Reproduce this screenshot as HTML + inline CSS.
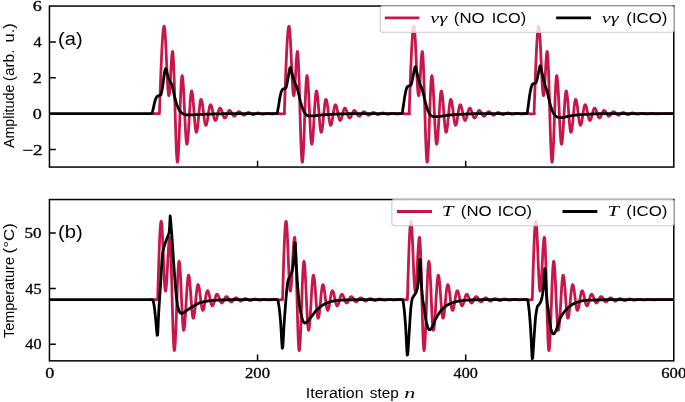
<!DOCTYPE html>
<html><head><meta charset="utf-8"><title>ICO learning</title><style>html,body{margin:0;padding:0;background:#fff}svg{display:block}</style></head><body>
<svg width="685" height="402" viewBox="0 0 685 402">
<rect width="685" height="402" fill="#fff"/>
<defs><clipPath id="c1"><rect x="49.45" y="6.05" width="624.35" height="161.00"/></clipPath><clipPath id="c2"><rect x="49.45" y="199.55" width="624.35" height="161.30"/></clipPath></defs>
<g fill="none" stroke-width="2.78" stroke-linejoin="round" stroke-linecap="butt">
<g clip-path="url(#c1)"><path stroke="#c7164a" d="M150.39 113.68L159.44 113.68L159.70 106.05L159.96 98.48L160.22 91.02L160.48 83.74L160.74 76.68L161.00 69.91L161.26 63.46L161.52 57.41L161.78 51.77L162.04 46.61L162.30 41.97L162.56 37.86L162.82 34.34L163.08 31.41L163.34 29.12L163.60 27.46L163.86 26.47L164.12 26.13L164.38 26.64L164.64 28.14L164.90 30.60L165.16 33.94L165.42 38.06L165.68 42.85L165.94 48.17L166.20 53.86L166.46 59.75L166.72 65.68L166.98 71.46L167.24 76.95L167.50 81.97L167.76 86.37L168.02 90.04L168.28 92.86L168.54 94.75L168.80 95.66L168.91 95.74L169.17 95.18L169.43 93.55L169.69 90.91L169.95 87.40L170.21 83.20L170.47 78.51L170.73 73.58L170.99 68.65L171.25 63.97L171.51 59.77L171.77 56.26L172.03 53.62L172.29 51.98L172.55 51.43L172.81 52.20L173.07 54.49L173.33 58.24L173.59 63.34L173.85 69.65L174.11 76.99L174.37 85.17L174.63 93.94L174.89 103.08L175.15 112.31L175.41 121.39L175.67 130.07L175.93 138.10L176.19 145.25L176.45 151.33L176.71 156.17L176.97 159.63L177.23 161.62L177.44 162.12L177.70 161.46L177.96 159.51L178.22 156.33L178.48 152.00L178.74 146.67L179.00 140.50L179.26 133.67L179.52 126.39L179.78 118.88L180.04 111.37L180.30 104.10L180.56 97.26L180.82 91.09L181.08 85.76L181.34 81.44L181.60 78.25L181.86 76.30L182.12 75.65L182.38 76.15L182.64 77.63L182.90 80.04L183.16 83.33L183.43 87.39L183.69 92.11L183.95 97.34L184.21 102.94L184.47 108.74L184.73 114.58L184.99 120.28L185.25 125.68L185.51 130.62L185.77 134.95L186.03 138.56L186.29 141.34L186.55 143.20L186.81 144.10L186.91 144.18L187.17 143.77L187.43 142.57L187.69 140.61L187.95 137.95L188.21 134.66L188.47 130.86L188.73 126.65L188.99 122.16L189.25 117.54L189.51 112.91L189.77 108.43L190.03 104.22L190.29 100.41L190.55 97.13L190.81 94.47L191.07 92.50L191.33 91.30L191.59 90.90L191.85 91.20L192.11 92.09L192.37 93.56L192.63 95.54L192.89 98.00L193.15 100.85L193.41 104.02L193.67 107.40L193.93 110.91L194.20 114.44L194.46 117.89L194.72 121.15L194.98 124.14L195.24 126.76L195.50 128.94L195.76 130.62L196.02 131.75L196.28 132.29L196.38 132.34L196.64 132.09L196.90 131.34L197.16 130.13L197.42 128.48L197.68 126.44L197.94 124.09L198.20 121.48L198.46 118.70L198.72 115.83L198.98 112.97L199.24 110.19L199.50 107.58L199.76 105.22L200.02 103.19L200.28 101.54L200.54 100.32L200.80 99.58L201.06 99.33L201.32 99.52L201.58 100.08L201.84 101.00L202.10 102.25L202.36 103.79L202.62 105.58L202.88 107.56L203.14 109.69L203.40 111.89L203.66 114.11L203.92 116.27L204.18 118.32L204.44 120.19L204.71 121.84L204.97 123.21L205.23 124.26L205.49 124.97L205.75 125.31L205.85 125.34L206.11 125.18L206.37 124.72L206.63 123.96L206.89 122.93L207.15 121.66L207.41 120.18L207.67 118.55L207.93 116.82L208.19 115.03L208.45 113.23L208.71 111.50L208.97 109.87L209.23 108.39L209.49 107.12L209.75 106.09L210.01 105.33L210.27 104.87L210.53 104.71L210.79 104.82L211.05 105.17L211.31 105.72L211.57 106.48L211.83 107.42L212.09 108.50L212.35 109.71L212.61 111.00L212.87 112.33L213.13 113.68L213.39 114.99L213.65 116.24L213.91 117.37L214.17 118.37L214.43 119.20L214.69 119.84L214.95 120.27L215.21 120.48L215.32 120.50L215.58 120.40L215.84 120.12L216.10 119.67L216.36 119.05L216.62 118.29L216.88 117.40L217.14 116.42L217.40 115.38L217.66 114.31L217.92 113.23L218.18 112.19L218.44 111.21L218.70 110.33L218.96 109.57L219.22 108.95L219.48 108.49L219.74 108.21L220.00 108.12L220.26 108.19L220.52 108.40L220.78 108.75L221.04 109.23L221.30 109.81L221.56 110.49L221.82 111.24L222.08 112.05L222.34 112.88L222.60 113.72L222.86 114.54L223.12 115.32L223.38 116.03L223.64 116.66L223.90 117.18L224.16 117.58L224.42 117.85L224.68 117.97L224.79 117.99L225.05 117.93L225.31 117.76L225.57 117.48L225.83 117.10L226.09 116.64L226.35 116.10L226.61 115.51L226.87 114.87L227.13 114.22L227.39 113.56L227.65 112.93L227.91 112.33L228.17 111.80L228.43 111.33L228.69 110.96L228.95 110.68L229.21 110.51L229.47 110.45L229.73 110.49L229.99 110.62L230.25 110.82L230.51 111.09L230.77 111.43L231.03 111.83L231.29 112.27L231.55 112.74L231.81 113.22L232.07 113.71L232.33 114.19L232.59 114.64L232.85 115.06L233.11 115.42L233.37 115.72L233.63 115.95L233.89 116.11L234.15 116.18L234.26 116.19L234.52 116.16L234.78 116.06L235.04 115.89L235.30 115.67L235.56 115.39L235.82 115.07L236.08 114.72L236.34 114.34L236.60 113.95L236.86 113.56L237.12 113.18L237.38 112.83L237.64 112.51L237.90 112.23L238.16 112.01L238.42 111.84L238.68 111.74L238.94 111.71L239.20 111.73L239.46 111.81L239.72 111.93L239.98 112.10L240.24 112.31L240.50 112.55L240.76 112.81L241.02 113.10L241.28 113.40L241.54 113.69L241.80 113.98L242.06 114.26L242.32 114.51L242.58 114.73L242.84 114.92L243.10 115.06L243.36 115.16L243.62 115.20L243.73 115.20L243.99 115.18L244.25 115.12L244.51 115.02L244.77 114.89L245.03 114.72L245.29 114.53L245.55 114.31L245.81 114.09L246.07 113.85L246.33 113.62L246.59 113.39L246.85 113.17L247.11 112.98L247.37 112.81L247.63 112.68L247.89 112.58L248.15 112.52L248.41 112.50L248.67 112.51L248.93 112.56L249.19 112.63L249.45 112.73L249.71 112.85L249.97 113.00L250.23 113.15L250.49 113.32L250.75 113.50L251.01 113.68L251.27 113.85L251.53 114.02L251.79 114.17L252.05 114.30L252.31 114.41L252.57 114.49L252.83 114.55L253.09 114.57L253.20 114.58L253.46 114.56L253.72 114.53L253.98 114.47L254.24 114.39L254.50 114.29L254.76 114.17L255.02 114.05L255.28 113.91L255.54 113.77L255.80 113.63L256.06 113.49L256.32 113.37L256.58 113.25L256.84 113.15L257.10 113.07L257.36 113.01L257.62 112.97L257.88 112.96L258.14 112.97L258.40 113.00L258.66 113.04L258.92 113.10L259.18 113.18L259.44 113.26L259.70 113.36L259.96 113.46L260.22 113.57L260.48 113.68L260.74 113.78L261.00 113.88L261.26 113.97L261.52 114.05L261.78 114.12L262.04 114.17L262.30 114.20L262.56 114.22L262.67 114.22L262.93 114.21L263.19 114.19L263.45 114.15L263.71 114.11L263.97 114.05L264.23 113.98L264.49 113.91L264.75 113.83L265.01 113.74L265.27 113.66L265.53 113.58L265.79 113.51L266.05 113.44L266.31 113.38L266.57 113.33L266.83 113.30L267.09 113.27L267.35 113.27L267.61 113.27L267.87 113.29L268.13 113.31L268.39 113.35L268.65 113.39L268.91 113.44L269.17 113.50L269.43 113.56L269.69 113.62L269.95 113.69L270.21 113.75L270.47 113.80L270.73 113.86L270.99 113.90L271.25 113.94L271.51 113.97L271.77 113.99L272.03 114.00L272.13 114.00L272.39 114.00L272.66 113.99L272.92 113.96L273.18 113.94L273.44 113.90L273.70 113.86L273.96 113.81L274.22 113.77L274.48 113.72L274.74 113.67L275.00 113.62L275.26 113.57L275.52 113.53L275.78 113.50L276.04 113.47L276.30 113.45L276.56 113.43L276.82 113.43L277.08 113.43L277.34 113.44L277.60 113.46L277.86 113.48L278.12 113.51L278.38 113.54L278.64 113.57L278.90 113.61L279.16 113.64L279.42 113.68L279.68 113.72L279.94 113.75L280.20 113.78L280.46 113.81L280.72 113.83L280.98 113.85L281.24 113.86L281.50 113.86L281.76 113.86L282.02 113.85L282.28 113.84L282.54 113.82L282.80 113.80L283.06 113.78L283.32 113.76L283.58 113.74L283.84 113.72L284.10 113.70L284.36 113.69L284.62 113.68L284.83 113.68L284.31 113.68L284.57 106.05L284.83 98.48L285.09 91.02L285.35 83.74L285.61 76.68L285.87 69.91L286.13 63.46L286.39 57.41L286.65 51.77L286.91 46.61L287.17 41.97L287.43 37.86L287.69 34.34L287.95 31.41L288.21 29.12L288.47 27.46L288.73 26.47L288.99 26.13L289.25 26.64L289.51 28.14L289.77 30.60L290.03 33.94L290.29 38.06L290.55 42.85L290.81 48.17L291.07 53.86L291.33 59.75L291.59 65.68L291.85 71.46L292.11 76.95L292.37 81.97L292.63 86.37L292.89 90.04L293.15 92.86L293.41 94.75L293.67 95.66L293.78 95.74L294.04 95.18L294.30 93.55L294.56 90.91L294.82 87.40L295.08 83.20L295.34 78.51L295.60 73.58L295.86 68.65L296.12 63.97L296.38 59.77L296.64 56.26L296.90 53.62L297.16 51.98L297.42 51.43L297.68 52.20L297.94 54.49L298.20 58.24L298.46 63.34L298.72 69.65L298.98 76.99L299.24 85.17L299.50 93.94L299.76 103.08L300.02 112.31L300.28 121.39L300.54 130.07L300.80 138.10L301.06 145.25L301.32 151.33L301.58 156.17L301.84 159.63L302.10 161.62L302.31 162.12L302.57 161.46L302.83 159.51L303.09 156.33L303.35 152.00L303.61 146.67L303.87 140.50L304.13 133.67L304.39 126.39L304.65 118.88L304.91 111.37L305.17 104.10L305.43 97.26L305.69 91.09L305.95 85.76L306.21 81.44L306.47 78.25L306.73 76.30L306.99 75.65L307.25 76.15L307.51 77.63L307.77 80.04L308.03 83.33L308.30 87.39L308.56 92.11L308.82 97.34L309.08 102.94L309.34 108.74L309.60 114.58L309.86 120.28L310.12 125.68L310.38 130.62L310.64 134.95L310.90 138.56L311.16 141.34L311.42 143.20L311.68 144.10L311.78 144.18L312.04 143.77L312.30 142.57L312.56 140.61L312.82 137.95L313.08 134.66L313.34 130.86L313.60 126.65L313.86 122.16L314.12 117.54L314.38 112.91L314.64 108.43L314.90 104.22L315.16 100.41L315.42 97.13L315.68 94.47L315.94 92.50L316.20 91.30L316.46 90.90L316.72 91.20L316.98 92.09L317.24 93.56L317.50 95.54L317.76 98.00L318.02 100.85L318.28 104.02L318.54 107.40L318.80 110.91L319.07 114.44L319.33 117.89L319.59 121.15L319.85 124.14L320.11 126.76L320.37 128.94L320.63 130.62L320.89 131.75L321.15 132.29L321.25 132.34L321.51 132.09L321.77 131.34L322.03 130.13L322.29 128.48L322.55 126.44L322.81 124.09L323.07 121.48L323.33 118.70L323.59 115.83L323.85 112.97L324.11 110.19L324.37 107.58L324.63 105.22L324.89 103.19L325.15 101.54L325.41 100.32L325.67 99.58L325.93 99.33L326.19 99.52L326.45 100.08L326.71 101.00L326.97 102.25L327.23 103.79L327.49 105.58L327.75 107.56L328.01 109.69L328.27 111.89L328.53 114.11L328.79 116.27L329.05 118.32L329.31 120.19L329.58 121.84L329.84 123.21L330.10 124.26L330.36 124.97L330.62 125.31L330.72 125.34L330.98 125.18L331.24 124.72L331.50 123.96L331.76 122.93L332.02 121.66L332.28 120.18L332.54 118.55L332.80 116.82L333.06 115.03L333.32 113.23L333.58 111.50L333.84 109.87L334.10 108.39L334.36 107.12L334.62 106.09L334.88 105.33L335.14 104.87L335.40 104.71L335.66 104.82L335.92 105.17L336.18 105.72L336.44 106.48L336.70 107.42L336.96 108.50L337.22 109.71L337.48 111.00L337.74 112.33L338.00 113.68L338.26 114.99L338.52 116.24L338.78 117.37L339.04 118.37L339.30 119.20L339.56 119.84L339.82 120.27L340.08 120.48L340.19 120.50L340.45 120.40L340.71 120.12L340.97 119.67L341.23 119.05L341.49 118.29L341.75 117.40L342.01 116.42L342.27 115.38L342.53 114.31L342.79 113.23L343.05 112.19L343.31 111.21L343.57 110.33L343.83 109.57L344.09 108.95L344.35 108.49L344.61 108.21L344.87 108.12L345.13 108.19L345.39 108.40L345.65 108.75L345.91 109.23L346.17 109.81L346.43 110.49L346.69 111.24L346.95 112.05L347.21 112.88L347.47 113.72L347.73 114.54L347.99 115.32L348.25 116.03L348.51 116.66L348.77 117.18L349.03 117.58L349.29 117.85L349.55 117.97L349.66 117.99L349.92 117.93L350.18 117.76L350.44 117.48L350.70 117.10L350.96 116.64L351.22 116.10L351.48 115.51L351.74 114.87L352.00 114.22L352.26 113.56L352.52 112.93L352.78 112.33L353.04 111.80L353.30 111.33L353.56 110.96L353.82 110.68L354.08 110.51L354.34 110.45L354.60 110.49L354.86 110.62L355.12 110.82L355.38 111.09L355.64 111.43L355.90 111.83L356.16 112.27L356.42 112.74L356.68 113.22L356.94 113.71L357.20 114.19L357.46 114.64L357.72 115.06L357.98 115.42L358.24 115.72L358.50 115.95L358.76 116.11L359.02 116.18L359.13 116.19L359.39 116.16L359.65 116.06L359.91 115.89L360.17 115.67L360.43 115.39L360.69 115.07L360.95 114.72L361.21 114.34L361.47 113.95L361.73 113.56L361.99 113.18L362.25 112.83L362.51 112.51L362.77 112.23L363.03 112.01L363.29 111.84L363.55 111.74L363.81 111.71L364.07 111.73L364.33 111.81L364.59 111.93L364.85 112.10L365.11 112.31L365.37 112.55L365.63 112.81L365.89 113.10L366.15 113.40L366.41 113.69L366.67 113.98L366.93 114.26L367.19 114.51L367.45 114.73L367.71 114.92L367.97 115.06L368.23 115.16L368.49 115.20L368.60 115.20L368.86 115.18L369.12 115.12L369.38 115.02L369.64 114.89L369.90 114.72L370.16 114.53L370.42 114.31L370.68 114.09L370.94 113.85L371.20 113.62L371.46 113.39L371.72 113.17L371.98 112.98L372.24 112.81L372.50 112.68L372.76 112.58L373.02 112.52L373.28 112.50L373.54 112.51L373.80 112.56L374.06 112.63L374.32 112.73L374.58 112.85L374.84 113.00L375.10 113.15L375.36 113.32L375.62 113.50L375.88 113.68L376.14 113.85L376.40 114.02L376.66 114.17L376.92 114.30L377.18 114.41L377.44 114.49L377.70 114.55L377.96 114.57L378.07 114.58L378.33 114.56L378.59 114.53L378.85 114.47L379.11 114.39L379.37 114.29L379.63 114.17L379.89 114.05L380.15 113.91L380.41 113.77L380.67 113.63L380.93 113.49L381.19 113.37L381.45 113.25L381.71 113.15L381.97 113.07L382.23 113.01L382.49 112.97L382.75 112.96L383.01 112.97L383.27 113.00L383.53 113.04L383.79 113.10L384.05 113.18L384.31 113.26L384.57 113.36L384.83 113.46L385.09 113.57L385.35 113.68L385.61 113.78L385.87 113.88L386.13 113.97L386.39 114.05L386.65 114.12L386.91 114.17L387.17 114.20L387.43 114.22L387.54 114.22L387.80 114.21L388.06 114.19L388.32 114.15L388.58 114.11L388.84 114.05L389.10 113.98L389.36 113.91L389.62 113.83L389.88 113.74L390.14 113.66L390.40 113.58L390.66 113.51L390.92 113.44L391.18 113.38L391.44 113.33L391.70 113.30L391.96 113.27L392.22 113.27L392.48 113.27L392.74 113.29L393.00 113.31L393.26 113.35L393.52 113.39L393.78 113.44L394.04 113.50L394.30 113.56L394.56 113.62L394.82 113.69L395.08 113.75L395.34 113.80L395.60 113.86L395.86 113.90L396.12 113.94L396.38 113.97L396.64 113.99L396.90 114.00L397.00 114.00L397.26 114.00L397.53 113.99L397.79 113.96L398.05 113.94L398.31 113.90L398.57 113.86L398.83 113.81L399.09 113.77L399.35 113.72L399.61 113.67L399.87 113.62L400.13 113.57L400.39 113.53L400.65 113.50L400.91 113.47L401.17 113.45L401.43 113.43L401.69 113.43L401.95 113.43L402.21 113.44L402.47 113.46L402.73 113.48L402.99 113.51L403.25 113.54L403.51 113.57L403.77 113.61L404.03 113.64L404.29 113.68L404.55 113.72L404.81 113.75L405.07 113.78L405.33 113.81L405.59 113.83L405.85 113.85L406.11 113.86L406.37 113.86L406.63 113.86L406.89 113.85L407.15 113.84L407.41 113.82L407.67 113.80L407.93 113.78L408.19 113.76L408.45 113.74L408.71 113.72L408.97 113.70L409.23 113.69L409.49 113.68L409.70 113.68L409.18 113.68L409.44 106.05L409.70 98.48L409.96 91.02L410.22 83.74L410.48 76.68L410.74 69.91L411.00 63.46L411.26 57.41L411.52 51.77L411.78 46.61L412.04 41.97L412.30 37.86L412.56 34.34L412.82 31.41L413.08 29.12L413.34 27.46L413.60 26.47L413.86 26.13L414.12 26.64L414.38 28.14L414.64 30.60L414.90 33.94L415.16 38.06L415.42 42.85L415.68 48.17L415.94 53.86L416.20 59.75L416.46 65.68L416.72 71.46L416.98 76.95L417.24 81.97L417.50 86.37L417.76 90.04L418.02 92.86L418.28 94.75L418.54 95.66L418.65 95.74L418.91 95.18L419.17 93.55L419.43 90.91L419.69 87.40L419.95 83.20L420.21 78.51L420.47 73.58L420.73 68.65L420.99 63.97L421.25 59.77L421.51 56.26L421.77 53.62L422.03 51.98L422.29 51.43L422.55 52.20L422.81 54.49L423.07 58.24L423.33 63.34L423.59 69.65L423.85 76.99L424.11 85.17L424.37 93.94L424.63 103.08L424.89 112.31L425.15 121.39L425.41 130.07L425.67 138.10L425.93 145.25L426.19 151.33L426.45 156.17L426.71 159.63L426.97 161.62L427.18 162.12L427.44 161.46L427.70 159.51L427.96 156.33L428.22 152.00L428.48 146.67L428.74 140.50L429.00 133.67L429.26 126.39L429.52 118.88L429.78 111.37L430.04 104.10L430.30 97.26L430.56 91.09L430.82 85.76L431.08 81.44L431.34 78.25L431.60 76.30L431.86 75.65L432.12 76.15L432.38 77.63L432.64 80.04L432.90 83.33L433.17 87.39L433.43 92.11L433.69 97.34L433.95 102.94L434.21 108.74L434.47 114.58L434.73 120.28L434.99 125.68L435.25 130.62L435.51 134.95L435.77 138.56L436.03 141.34L436.29 143.20L436.55 144.10L436.65 144.18L436.91 143.77L437.17 142.57L437.43 140.61L437.69 137.95L437.95 134.66L438.21 130.86L438.47 126.65L438.73 122.16L438.99 117.54L439.25 112.91L439.51 108.43L439.77 104.22L440.03 100.41L440.29 97.13L440.55 94.47L440.81 92.50L441.07 91.30L441.33 90.90L441.59 91.20L441.85 92.09L442.11 93.56L442.37 95.54L442.63 98.00L442.89 100.85L443.15 104.02L443.41 107.40L443.67 110.91L443.94 114.44L444.20 117.89L444.46 121.15L444.72 124.14L444.98 126.76L445.24 128.94L445.50 130.62L445.76 131.75L446.02 132.29L446.12 132.34L446.38 132.09L446.64 131.34L446.90 130.13L447.16 128.48L447.42 126.44L447.68 124.09L447.94 121.48L448.20 118.70L448.46 115.83L448.72 112.97L448.98 110.19L449.24 107.58L449.50 105.22L449.76 103.19L450.02 101.54L450.28 100.32L450.54 99.58L450.80 99.33L451.06 99.52L451.32 100.08L451.58 101.00L451.84 102.25L452.10 103.79L452.36 105.58L452.62 107.56L452.88 109.69L453.14 111.89L453.40 114.11L453.66 116.27L453.92 118.32L454.18 120.19L454.45 121.84L454.71 123.21L454.97 124.26L455.23 124.97L455.49 125.31L455.59 125.34L455.85 125.18L456.11 124.72L456.37 123.96L456.63 122.93L456.89 121.66L457.15 120.18L457.41 118.55L457.67 116.82L457.93 115.03L458.19 113.23L458.45 111.50L458.71 109.87L458.97 108.39L459.23 107.12L459.49 106.09L459.75 105.33L460.01 104.87L460.27 104.71L460.53 104.82L460.79 105.17L461.05 105.72L461.31 106.48L461.57 107.42L461.83 108.50L462.09 109.71L462.35 111.00L462.61 112.33L462.87 113.68L463.13 114.99L463.39 116.24L463.65 117.37L463.91 118.37L464.17 119.20L464.43 119.84L464.69 120.27L464.95 120.48L465.06 120.50L465.32 120.40L465.58 120.12L465.84 119.67L466.10 119.05L466.36 118.29L466.62 117.40L466.88 116.42L467.14 115.38L467.40 114.31L467.66 113.23L467.92 112.19L468.18 111.21L468.44 110.33L468.70 109.57L468.96 108.95L469.22 108.49L469.48 108.21L469.74 108.12L470.00 108.19L470.26 108.40L470.52 108.75L470.78 109.23L471.04 109.81L471.30 110.49L471.56 111.24L471.82 112.05L472.08 112.88L472.34 113.72L472.60 114.54L472.86 115.32L473.12 116.03L473.38 116.66L473.64 117.18L473.90 117.58L474.16 117.85L474.42 117.97L474.53 117.99L474.79 117.93L475.05 117.76L475.31 117.48L475.57 117.10L475.83 116.64L476.09 116.10L476.35 115.51L476.61 114.87L476.87 114.22L477.13 113.56L477.39 112.93L477.65 112.33L477.91 111.80L478.17 111.33L478.43 110.96L478.69 110.68L478.95 110.51L479.21 110.45L479.47 110.49L479.73 110.62L479.99 110.82L480.25 111.09L480.51 111.43L480.77 111.83L481.03 112.27L481.29 112.74L481.55 113.22L481.81 113.71L482.07 114.19L482.33 114.64L482.59 115.06L482.85 115.42L483.11 115.72L483.37 115.95L483.63 116.11L483.89 116.18L484.00 116.19L484.26 116.16L484.52 116.06L484.78 115.89L485.04 115.67L485.30 115.39L485.56 115.07L485.82 114.72L486.08 114.34L486.34 113.95L486.60 113.56L486.86 113.18L487.12 112.83L487.38 112.51L487.64 112.23L487.90 112.01L488.16 111.84L488.42 111.74L488.68 111.71L488.94 111.73L489.20 111.81L489.46 111.93L489.72 112.10L489.98 112.31L490.24 112.55L490.50 112.81L490.76 113.10L491.02 113.40L491.28 113.69L491.54 113.98L491.80 114.26L492.06 114.51L492.32 114.73L492.58 114.92L492.84 115.06L493.10 115.16L493.36 115.20L493.47 115.20L493.73 115.18L493.99 115.12L494.25 115.02L494.51 114.89L494.77 114.72L495.03 114.53L495.29 114.31L495.55 114.09L495.81 113.85L496.07 113.62L496.33 113.39L496.59 113.17L496.85 112.98L497.11 112.81L497.37 112.68L497.63 112.58L497.89 112.52L498.15 112.50L498.41 112.51L498.67 112.56L498.93 112.63L499.19 112.73L499.45 112.85L499.71 113.00L499.97 113.15L500.23 113.32L500.49 113.50L500.75 113.68L501.01 113.85L501.27 114.02L501.53 114.17L501.79 114.30L502.05 114.41L502.31 114.49L502.57 114.55L502.83 114.57L502.94 114.58L503.20 114.56L503.46 114.53L503.72 114.47L503.98 114.39L504.24 114.29L504.50 114.17L504.76 114.05L505.02 113.91L505.28 113.77L505.54 113.63L505.80 113.49L506.06 113.37L506.32 113.25L506.58 113.15L506.84 113.07L507.10 113.01L507.36 112.97L507.62 112.96L507.88 112.97L508.14 113.00L508.40 113.04L508.66 113.10L508.92 113.18L509.18 113.26L509.44 113.36L509.70 113.46L509.96 113.57L510.22 113.68L510.48 113.78L510.74 113.88L511.00 113.97L511.26 114.05L511.52 114.12L511.78 114.17L512.04 114.20L512.30 114.22L512.41 114.22L512.67 114.21L512.93 114.19L513.19 114.15L513.45 114.11L513.71 114.05L513.97 113.98L514.23 113.91L514.49 113.83L514.75 113.74L515.01 113.66L515.27 113.58L515.53 113.51L515.79 113.44L516.05 113.38L516.31 113.33L516.57 113.30L516.83 113.27L517.09 113.27L517.35 113.27L517.61 113.29L517.87 113.31L518.13 113.35L518.39 113.39L518.65 113.44L518.91 113.50L519.17 113.56L519.43 113.62L519.69 113.69L519.95 113.75L520.21 113.80L520.47 113.86L520.73 113.90L520.99 113.94L521.25 113.97L521.51 113.99L521.77 114.00L521.87 114.00L522.13 114.00L522.40 113.99L522.66 113.96L522.92 113.94L523.18 113.90L523.44 113.86L523.70 113.81L523.96 113.77L524.22 113.72L524.48 113.67L524.74 113.62L525.00 113.57L525.26 113.53L525.52 113.50L525.78 113.47L526.04 113.45L526.30 113.43L526.56 113.43L526.82 113.43L527.08 113.44L527.34 113.46L527.60 113.48L527.86 113.51L528.12 113.54L528.38 113.57L528.64 113.61L528.90 113.64L529.16 113.68L529.42 113.72L529.68 113.75L529.94 113.78L530.20 113.81L530.46 113.83L530.72 113.85L530.98 113.86L531.24 113.86L531.50 113.86L531.76 113.85L532.02 113.84L532.28 113.82L532.54 113.80L532.80 113.78L533.06 113.76L533.32 113.74L533.58 113.72L533.84 113.70L534.10 113.69L534.36 113.68L534.57 113.68L534.05 113.68L534.31 106.05L534.57 98.48L534.83 91.02L535.09 83.74L535.35 76.68L535.61 69.91L535.87 63.46L536.13 57.41L536.39 51.77L536.65 46.61L536.91 41.97L537.17 37.86L537.43 34.34L537.69 31.41L537.95 29.12L538.21 27.46L538.47 26.47L538.73 26.13L538.99 26.64L539.25 28.14L539.51 30.60L539.77 33.94L540.03 38.06L540.29 42.85L540.55 48.17L540.81 53.86L541.07 59.75L541.33 65.68L541.59 71.46L541.85 76.95L542.11 81.97L542.37 86.37L542.63 90.04L542.89 92.86L543.15 94.75L543.41 95.66L543.52 95.74L543.78 95.18L544.04 93.55L544.30 90.91L544.56 87.40L544.82 83.20L545.08 78.51L545.34 73.58L545.60 68.65L545.86 63.97L546.12 59.77L546.38 56.26L546.64 53.62L546.90 51.98L547.16 51.43L547.42 52.20L547.68 54.49L547.94 58.24L548.20 63.34L548.46 69.65L548.72 76.99L548.98 85.17L549.24 93.94L549.50 103.08L549.76 112.31L550.02 121.39L550.28 130.07L550.54 138.10L550.80 145.25L551.06 151.33L551.32 156.17L551.58 159.63L551.84 161.62L552.05 162.12L552.31 161.46L552.57 159.51L552.83 156.33L553.09 152.00L553.35 146.67L553.61 140.50L553.87 133.67L554.13 126.39L554.39 118.88L554.65 111.37L554.91 104.10L555.17 97.26L555.43 91.09L555.69 85.76L555.95 81.44L556.21 78.25L556.47 76.30L556.73 75.65L556.99 76.15L557.25 77.63L557.51 80.04L557.77 83.33L558.04 87.39L558.30 92.11L558.56 97.34L558.82 102.94L559.08 108.74L559.34 114.58L559.60 120.28L559.86 125.68L560.12 130.62L560.38 134.95L560.64 138.56L560.90 141.34L561.16 143.20L561.42 144.10L561.52 144.18L561.78 143.77L562.04 142.57L562.30 140.61L562.56 137.95L562.82 134.66L563.08 130.86L563.34 126.65L563.60 122.16L563.86 117.54L564.12 112.91L564.38 108.43L564.64 104.22L564.90 100.41L565.16 97.13L565.42 94.47L565.68 92.50L565.94 91.30L566.20 90.90L566.46 91.20L566.72 92.09L566.98 93.56L567.24 95.54L567.50 98.00L567.76 100.85L568.02 104.02L568.28 107.40L568.54 110.91L568.81 114.44L569.07 117.89L569.33 121.15L569.59 124.14L569.85 126.76L570.11 128.94L570.37 130.62L570.63 131.75L570.89 132.29L570.99 132.34L571.25 132.09L571.51 131.34L571.77 130.13L572.03 128.48L572.29 126.44L572.55 124.09L572.81 121.48L573.07 118.70L573.33 115.83L573.59 112.97L573.85 110.19L574.11 107.58L574.37 105.22L574.63 103.19L574.89 101.54L575.15 100.32L575.41 99.58L575.67 99.33L575.93 99.52L576.19 100.08L576.45 101.00L576.71 102.25L576.97 103.79L577.23 105.58L577.49 107.56L577.75 109.69L578.01 111.89L578.27 114.11L578.53 116.27L578.79 118.32L579.05 120.19L579.32 121.84L579.58 123.21L579.84 124.26L580.10 124.97L580.36 125.31L580.46 125.34L580.72 125.18L580.98 124.72L581.24 123.96L581.50 122.93L581.76 121.66L582.02 120.18L582.28 118.55L582.54 116.82L582.80 115.03L583.06 113.23L583.32 111.50L583.58 109.87L583.84 108.39L584.10 107.12L584.36 106.09L584.62 105.33L584.88 104.87L585.14 104.71L585.40 104.82L585.66 105.17L585.92 105.72L586.18 106.48L586.44 107.42L586.70 108.50L586.96 109.71L587.22 111.00L587.48 112.33L587.74 113.68L588.00 114.99L588.26 116.24L588.52 117.37L588.78 118.37L589.04 119.20L589.30 119.84L589.56 120.27L589.82 120.48L589.93 120.50L590.19 120.40L590.45 120.12L590.71 119.67L590.97 119.05L591.23 118.29L591.49 117.40L591.75 116.42L592.01 115.38L592.27 114.31L592.53 113.23L592.79 112.19L593.05 111.21L593.31 110.33L593.57 109.57L593.83 108.95L594.09 108.49L594.35 108.21L594.61 108.12L594.87 108.19L595.13 108.40L595.39 108.75L595.65 109.23L595.91 109.81L596.17 110.49L596.43 111.24L596.69 112.05L596.95 112.88L597.21 113.72L597.47 114.54L597.73 115.32L597.99 116.03L598.25 116.66L598.51 117.18L598.77 117.58L599.03 117.85L599.29 117.97L599.40 117.99L599.66 117.93L599.92 117.76L600.18 117.48L600.44 117.10L600.70 116.64L600.96 116.10L601.22 115.51L601.48 114.87L601.74 114.22L602.00 113.56L602.26 112.93L602.52 112.33L602.78 111.80L603.04 111.33L603.30 110.96L603.56 110.68L603.82 110.51L604.08 110.45L604.34 110.49L604.60 110.62L604.86 110.82L605.12 111.09L605.38 111.43L605.64 111.83L605.90 112.27L606.16 112.74L606.42 113.22L606.68 113.71L606.94 114.19L607.20 114.64L607.46 115.06L607.72 115.42L607.98 115.72L608.24 115.95L608.50 116.11L608.76 116.18L608.87 116.19L609.13 116.16L609.39 116.06L609.65 115.89L609.91 115.67L610.17 115.39L610.43 115.07L610.69 114.72L610.95 114.34L611.21 113.95L611.47 113.56L611.73 113.18L611.99 112.83L612.25 112.51L612.51 112.23L612.77 112.01L613.03 111.84L613.29 111.74L613.55 111.71L613.81 111.73L614.07 111.81L614.33 111.93L614.59 112.10L614.85 112.31L615.11 112.55L615.37 112.81L615.63 113.10L615.89 113.40L616.15 113.69L616.41 113.98L616.67 114.26L616.93 114.51L617.19 114.73L617.45 114.92L617.71 115.06L617.97 115.16L618.23 115.20L618.34 115.20L618.60 115.18L618.86 115.12L619.12 115.02L619.38 114.89L619.64 114.72L619.90 114.53L620.16 114.31L620.42 114.09L620.68 113.85L620.94 113.62L621.20 113.39L621.46 113.17L621.72 112.98L621.98 112.81L622.24 112.68L622.50 112.58L622.76 112.52L623.02 112.50L623.28 112.51L623.54 112.56L623.80 112.63L624.06 112.73L624.32 112.85L624.58 113.00L624.84 113.15L625.10 113.32L625.36 113.50L625.62 113.68L625.88 113.85L626.14 114.02L626.40 114.17L626.66 114.30L626.92 114.41L627.18 114.49L627.44 114.55L627.70 114.57L627.81 114.58L628.07 114.56L628.33 114.53L628.59 114.47L628.85 114.39L629.11 114.29L629.37 114.17L629.63 114.05L629.89 113.91L630.15 113.77L630.41 113.63L630.67 113.49L630.93 113.37L631.19 113.25L631.45 113.15L631.71 113.07L631.97 113.01L632.23 112.97L632.49 112.96L632.75 112.97L633.01 113.00L633.27 113.04L633.53 113.10L633.79 113.18L634.05 113.26L634.31 113.36L634.57 113.46L634.83 113.57L635.09 113.68L635.35 113.78L635.61 113.88L635.87 113.97L636.13 114.05L636.39 114.12L636.65 114.17L636.91 114.20L637.17 114.22L637.28 114.22L637.54 114.21L637.80 114.19L638.06 114.15L638.32 114.11L638.58 114.05L638.84 113.98L639.10 113.91L639.36 113.83L639.62 113.74L639.88 113.66L640.14 113.58L640.40 113.51L640.66 113.44L640.92 113.38L641.18 113.33L641.44 113.30L641.70 113.27L641.96 113.27L642.22 113.27L642.48 113.29L642.74 113.31L643.00 113.35L643.26 113.39L643.52 113.44L643.78 113.50L644.04 113.56L644.30 113.62L644.56 113.69L644.82 113.75L645.08 113.80L645.34 113.86L645.60 113.90L645.86 113.94L646.12 113.97L646.38 113.99L646.64 114.00L646.74 114.00L647.00 114.00L647.27 113.99L647.53 113.96L647.79 113.94L648.05 113.90L648.31 113.86L648.57 113.81L648.83 113.77L649.09 113.72L649.35 113.67L649.61 113.62L649.87 113.57L650.13 113.53L650.39 113.50L650.65 113.47L650.91 113.45L651.17 113.43L651.43 113.43L651.69 113.43L651.95 113.44L652.21 113.46L652.47 113.48L652.73 113.51L652.99 113.54L653.25 113.57L653.51 113.61L653.77 113.64L654.03 113.68L654.29 113.72L654.55 113.75L654.81 113.78L655.07 113.81L655.33 113.83L655.59 113.85L655.85 113.86L656.11 113.86L656.37 113.86L656.63 113.85L656.89 113.84L657.15 113.82L657.41 113.80L657.67 113.78L657.93 113.76L658.19 113.74L658.45 113.72L658.71 113.70L658.97 113.69L659.23 113.68L659.44 113.68L673.80 113.68"/><path stroke="#000" d="M49.45 113.68L49.97 113.68L50.49 113.68L51.01 113.68L51.53 113.68L52.05 113.68L52.57 113.68L53.09 113.68L53.61 113.68L54.13 113.68L54.65 113.68L55.17 113.68L55.69 113.68L56.21 113.68L56.73 113.68L57.25 113.68L57.77 113.68L58.29 113.68L58.82 113.68L59.34 113.68L59.86 113.68L60.38 113.68L60.90 113.68L61.42 113.68L61.94 113.68L62.46 113.68L62.98 113.68L63.50 113.68L64.02 113.68L64.54 113.68L65.06 113.68L65.58 113.68L66.10 113.68L66.62 113.68L67.14 113.68L67.66 113.68L68.18 113.68L68.70 113.68L69.22 113.68L69.74 113.68L70.26 113.68L70.78 113.68L71.30 113.68L71.82 113.68L72.34 113.68L72.86 113.68L73.38 113.68L73.90 113.68L74.42 113.68L74.94 113.68L75.46 113.68L75.98 113.68L76.51 113.68L77.03 113.68L77.55 113.68L78.07 113.68L78.59 113.68L79.11 113.68L79.63 113.68L80.15 113.68L80.67 113.68L81.19 113.68L81.71 113.68L82.23 113.68L82.75 113.68L83.27 113.68L83.79 113.68L84.31 113.68L84.83 113.68L85.35 113.68L85.87 113.68L86.39 113.68L86.91 113.68L87.43 113.68L87.95 113.68L88.47 113.68L88.99 113.68L89.51 113.68L90.03 113.68L90.55 113.68L91.07 113.68L91.59 113.68L92.11 113.68L92.63 113.68L93.15 113.68L93.67 113.68L94.20 113.68L94.72 113.68L95.24 113.68L95.76 113.68L96.28 113.68L96.80 113.68L97.32 113.68L97.84 113.68L98.36 113.68L98.88 113.68L99.40 113.68L99.92 113.68L100.44 113.68L100.96 113.68L101.48 113.68L102.00 113.68L102.52 113.68L103.04 113.68L103.56 113.68L104.08 113.68L104.60 113.68L105.12 113.68L105.64 113.68L106.16 113.68L106.68 113.68L107.20 113.68L107.72 113.68L108.24 113.68L108.76 113.68L109.28 113.68L109.80 113.68L110.32 113.68L110.84 113.68L111.36 113.68L111.88 113.68L112.41 113.68L112.93 113.68L113.45 113.68L113.97 113.68L114.49 113.68L115.01 113.68L115.53 113.68L116.05 113.68L116.57 113.68L117.09 113.68L117.61 113.68L118.13 113.68L118.65 113.68L119.17 113.68L119.69 113.68L120.21 113.68L120.73 113.68L121.25 113.68L121.77 113.68L122.29 113.68L122.81 113.68L123.33 113.68L123.85 113.68L124.37 113.68L124.89 113.68L125.41 113.68L125.93 113.68L126.45 113.68L126.97 113.68L127.49 113.68L128.01 113.68L128.53 113.68L129.05 113.68L129.57 113.68L130.10 113.68L130.62 113.68L131.14 113.68L131.66 113.68L132.18 113.68L132.70 113.68L133.22 113.68L133.74 113.68L134.26 113.68L134.78 113.68L135.30 113.68L135.82 113.68L136.34 113.68L136.86 113.68L137.38 113.68L137.90 113.68L138.42 113.68L138.94 113.68L139.46 113.68L139.98 113.68L140.50 113.71L141.02 113.71L141.54 113.71L142.06 113.71L142.58 113.71L143.10 113.71L143.62 113.71L144.14 113.71L144.66 113.71L145.18 113.71L145.70 113.71L146.22 113.71L146.74 113.71L147.26 113.71L147.79 113.71L148.31 113.71L148.83 113.71L149.35 113.71L149.87 113.71L150.39 113.71L150.91 113.71L151.43 113.71L151.95 113.24L152.47 111.68L152.99 109.74L153.51 107.67L154.03 105.07L154.55 102.58L155.07 100.75L155.59 99.22L156.11 97.94L156.63 97.04L157.15 96.46L157.67 96.11L158.19 95.89L158.71 95.72L159.23 95.52L159.75 95.32L160.27 95.11L160.79 94.78L161.31 93.69L161.83 91.05L162.35 88.09L162.87 84.53L163.39 80.71L163.91 76.87L164.43 72.98L164.95 70.51L165.48 68.84L166.00 68.64L166.52 70.74L167.04 73.18L167.56 75.01L168.08 76.76L168.60 78.30L169.12 79.56L169.64 80.64L170.16 81.62L170.68 82.52L171.20 83.23L171.72 84.14L172.24 85.94L172.76 88.38L173.28 90.68L173.80 93.06L174.32 95.43L174.84 97.64L175.36 99.63L175.88 101.46L176.40 103.13L176.92 104.64L177.44 106.02L177.96 107.28L178.48 108.46L179.00 109.53L179.52 110.42L180.04 111.17L180.56 111.81L181.08 112.35L181.60 112.82L182.12 113.23L182.64 113.58L183.16 113.87L183.69 114.13L184.21 114.36L184.73 114.53L185.25 114.64L185.77 114.73L186.29 114.81L186.81 114.87L187.33 114.92L187.85 114.93L188.37 114.93L188.89 114.93L189.41 114.92L189.93 114.91L190.45 114.90L190.97 114.88L191.49 114.87L192.01 114.85L192.53 114.84L193.05 114.82L193.57 114.80L194.09 114.78L194.61 114.76L195.13 114.73L195.65 114.70L196.17 114.67L196.69 114.64L197.21 114.61L197.73 114.58L198.25 114.55L198.77 114.52L199.29 114.50L199.81 114.47L200.33 114.44L200.85 114.42L201.38 114.39L201.90 114.37L202.42 114.35L202.94 114.32L203.46 114.30L203.98 114.28L204.50 114.25L205.02 114.23L205.54 114.21L206.06 114.19L206.58 114.17L207.10 114.15L207.62 114.13L208.14 114.11L208.66 114.09L209.18 114.08L209.70 114.06L210.22 114.05L210.74 114.03L211.26 114.02L211.78 114.00L212.30 113.99L212.82 113.97L213.34 113.96L213.86 113.94L214.38 113.93L214.90 113.91L215.42 113.90L215.94 113.89L216.46 113.87L216.98 113.86L217.50 113.85L218.02 113.83L218.54 113.82L219.07 113.81L219.59 113.80L220.11 113.79L220.63 113.78L221.15 113.77L221.67 113.76L222.19 113.75L222.71 113.74L223.23 113.74L223.75 113.73L224.27 113.73L224.79 113.72L225.31 113.72L225.83 113.71L226.35 113.71L226.87 113.71L227.39 113.71L227.91 113.71L228.43 113.71L228.95 113.71L229.47 113.71L229.99 113.71L230.51 113.71L231.03 113.71L231.55 113.71L232.07 113.71L232.59 113.71L233.11 113.71L233.63 113.71L234.15 113.71L234.67 113.71L235.19 113.71L235.71 113.71L236.23 113.71L236.75 113.71L237.28 113.71L237.80 113.71L238.32 113.71L238.84 113.71L239.36 113.71L239.88 113.71L240.40 113.71L240.92 113.71L241.44 113.71L241.96 113.71L242.48 113.71L243.00 113.71L243.52 113.71L244.04 113.71L244.56 113.71L245.08 113.71L245.60 113.71L246.12 113.71L246.64 113.71L247.16 113.71L247.68 113.71L248.20 113.71L248.72 113.71L249.24 113.71L249.76 113.71L250.28 113.71L250.80 113.71L251.32 113.71L251.84 113.71L252.36 113.71L252.88 113.71L253.40 113.71L253.92 113.71L254.44 113.71L254.97 113.71L255.49 113.71L256.01 113.71L256.53 113.71L257.05 113.71L257.57 113.71L258.09 113.71L258.61 113.71L259.13 113.71L259.65 113.71L260.17 113.71L260.69 113.71L261.21 113.71L261.73 113.71L262.25 113.71L262.77 113.71L263.29 113.71L263.81 113.71L264.33 113.71L264.85 113.71L265.37 113.71L265.89 113.71L266.41 113.71L266.93 113.71L267.45 113.71L267.97 113.71L268.49 113.71L269.01 113.71L269.53 113.71L270.05 113.71L270.57 113.71L271.09 113.71L271.61 113.71L272.13 113.71L272.66 113.71L273.18 113.71L273.70 113.71L274.22 113.71L274.74 113.71L275.26 113.71L275.78 113.71L276.52 113.71L277.04 113.55L277.56 111.55L278.08 108.56L278.60 105.69L279.12 102.34L279.64 99.04L280.16 96.35L280.68 93.98L281.20 91.99L281.72 90.66L282.24 89.79L282.76 89.36L283.28 89.08L283.80 88.87L284.32 88.65L284.84 88.49L285.36 88.33L285.88 88.04L286.40 86.72L286.92 84.18L287.45 81.57L287.97 78.58L288.49 75.52L289.01 72.46L289.53 69.70L290.05 67.58L290.57 67.66L291.09 69.80L291.61 72.00L292.13 73.92L292.65 75.84L293.17 77.66L293.69 79.37L294.21 81.01L294.73 82.50L295.25 83.74L295.77 84.77L296.29 85.76L296.81 86.77L297.33 88.68L297.85 90.99L298.37 92.92L298.89 94.84L299.41 96.99L299.93 99.30L300.45 101.55L300.97 103.49L301.49 105.18L302.01 106.72L302.53 108.13L303.05 109.42L303.57 110.66L304.09 111.82L304.61 112.78L305.13 113.48L305.66 114.10L306.18 114.67L306.70 115.15L307.22 115.50L307.74 115.70L308.26 115.77L308.78 115.83L309.30 115.87L309.82 115.91L310.34 115.94L310.86 115.97L311.38 115.98L311.90 115.98L312.42 115.97L312.94 115.95L313.46 115.91L313.98 115.86L314.50 115.81L315.02 115.74L315.54 115.68L316.06 115.61L316.58 115.54L317.10 115.48L317.62 115.42L318.14 115.37L318.66 115.32L319.18 115.26L319.70 115.21L320.22 115.15L320.74 115.09L321.26 115.04L321.78 114.98L322.30 114.93L322.82 114.87L323.35 114.82L323.87 114.78L324.39 114.74L324.91 114.70L325.43 114.66L325.95 114.62L326.47 114.59L326.99 114.55L327.51 114.52L328.03 114.48L328.55 114.45L329.07 114.42L329.59 114.39L330.11 114.36L330.63 114.33L331.15 114.30L331.67 114.28L332.19 114.25L332.71 114.23L333.23 114.20L333.75 114.18L334.27 114.16L334.79 114.14L335.31 114.13L335.83 114.11L336.35 114.09L336.87 114.07L337.39 114.05L337.91 114.03L338.43 114.01L338.95 113.99L339.47 113.98L339.99 113.96L340.51 113.94L341.04 113.92L341.56 113.91L342.08 113.89L342.60 113.87L343.12 113.86L343.64 113.84L344.16 113.83L344.68 113.82L345.20 113.80L345.72 113.79L346.24 113.78L346.76 113.77L347.28 113.76L347.80 113.75L348.32 113.74L348.84 113.73L349.36 113.73L349.88 113.72L350.40 113.72L350.92 113.71L351.44 113.71L351.96 113.71L352.48 113.71L353.00 113.71L353.52 113.71L354.04 113.71L354.56 113.71L355.08 113.71L355.60 113.71L356.12 113.71L356.64 113.71L357.16 113.71L357.68 113.71L358.20 113.71L358.73 113.71L359.25 113.71L359.77 113.71L360.29 113.71L360.81 113.71L361.33 113.71L361.85 113.71L362.37 113.71L362.89 113.71L363.41 113.71L363.93 113.71L364.45 113.71L364.97 113.71L365.49 113.71L366.01 113.71L366.53 113.71L367.05 113.71L367.57 113.71L368.09 113.71L368.61 113.71L369.13 113.71L369.65 113.71L370.17 113.71L370.69 113.71L371.21 113.71L371.73 113.71L372.25 113.71L372.77 113.71L373.29 113.71L373.81 113.71L374.33 113.71L374.85 113.71L375.37 113.71L375.89 113.71L376.41 113.71L376.94 113.71L377.46 113.71L377.98 113.71L378.50 113.71L379.02 113.71L379.54 113.71L380.06 113.71L380.58 113.71L381.10 113.71L381.62 113.71L382.14 113.71L382.66 113.71L383.18 113.71L383.70 113.71L384.22 113.71L384.74 113.71L385.26 113.71L385.78 113.71L386.30 113.71L386.82 113.71L387.34 113.71L387.86 113.71L388.38 113.71L388.90 113.71L389.42 113.71L389.94 113.71L390.46 113.71L390.98 113.71L391.50 113.71L392.02 113.71L392.54 113.71L393.06 113.71L393.58 113.71L394.10 113.71L394.63 113.71L395.15 113.71L395.67 113.71L396.19 113.71L396.71 113.71L397.23 113.71L397.75 113.71L398.27 113.71L398.79 113.71L399.31 113.71L399.83 113.71L400.35 113.71L400.87 113.71L401.50 113.71L402.02 113.52L402.54 111.24L403.06 107.82L403.58 104.57L404.10 100.82L404.63 97.14L405.15 94.18L405.67 91.65L406.19 89.51L406.71 87.96L407.23 86.84L407.75 86.42L408.27 86.21L408.79 86.05L409.31 85.86L409.83 85.71L410.35 85.53L410.87 85.24L411.39 84.10L411.91 81.94L412.43 79.67L412.95 77.01L413.47 74.27L413.99 71.52L414.51 68.99L415.03 66.89L415.55 66.97L416.07 69.20L416.59 71.50L417.11 73.55L417.63 75.62L418.15 77.63L418.67 79.59L419.19 81.53L419.71 83.28L420.23 84.70L420.75 85.89L421.27 86.98L421.79 88.00L422.32 89.69L422.84 91.88L423.36 93.88L423.88 95.88L424.40 98.03L424.92 100.28L425.44 102.48L425.96 104.46L426.48 106.30L427.00 108.04L427.52 109.59L428.04 110.90L428.56 112.04L429.08 113.06L429.60 113.89L430.12 114.49L430.64 115.03L431.16 115.51L431.68 115.92L432.20 116.23L432.72 116.40L433.24 116.47L433.76 116.52L434.28 116.57L434.80 116.61L435.32 116.64L435.84 116.67L436.36 116.68L436.88 116.68L437.40 116.67L437.92 116.64L438.44 116.60L438.96 116.54L439.48 116.47L440.00 116.40L440.53 116.32L441.05 116.24L441.57 116.16L442.09 116.08L442.61 116.00L443.13 115.94L443.65 115.87L444.17 115.79L444.69 115.71L445.21 115.63L445.73 115.55L446.25 115.48L446.77 115.40L447.29 115.32L447.81 115.25L448.33 115.18L448.85 115.12L449.37 115.06L449.89 115.01L450.41 114.96L450.93 114.91L451.45 114.87L451.97 114.82L452.49 114.78L453.01 114.74L453.53 114.70L454.05 114.66L454.57 114.62L455.09 114.59L455.61 114.55L456.13 114.52L456.65 114.49L457.17 114.46L457.69 114.43L458.22 114.40L458.74 114.37L459.26 114.34L459.78 114.32L460.30 114.29L460.82 114.27L461.34 114.24L461.86 114.21L462.38 114.19L462.90 114.16L463.42 114.14L463.94 114.11L464.46 114.09L464.98 114.06L465.50 114.04L466.02 114.01L466.54 113.99L467.06 113.97L467.58 113.94L468.10 113.92L468.62 113.90L469.14 113.88L469.66 113.86L470.18 113.84L470.70 113.83L471.22 113.81L471.74 113.79L472.26 113.78L472.78 113.77L473.30 113.75L473.82 113.74L474.34 113.73L474.86 113.73L475.38 113.72L475.91 113.72L476.43 113.71L476.95 113.71L477.47 113.71L477.99 113.71L478.51 113.71L479.03 113.71L479.55 113.71L480.07 113.71L480.59 113.71L481.11 113.71L481.63 113.71L482.15 113.71L482.67 113.71L483.19 113.71L483.71 113.71L484.23 113.71L484.75 113.71L485.27 113.71L485.79 113.71L486.31 113.71L486.83 113.71L487.35 113.71L487.87 113.71L488.39 113.71L488.91 113.71L489.43 113.71L489.95 113.71L490.47 113.71L490.99 113.71L491.51 113.71L492.03 113.71L492.55 113.71L493.07 113.71L493.60 113.71L494.12 113.71L494.64 113.71L495.16 113.71L495.68 113.71L496.20 113.71L496.72 113.71L497.24 113.71L497.76 113.71L498.28 113.71L498.80 113.71L499.32 113.71L499.84 113.71L500.36 113.71L500.88 113.71L501.40 113.71L501.92 113.71L502.44 113.71L502.96 113.71L503.48 113.71L504.00 113.71L504.52 113.71L505.04 113.71L505.56 113.71L506.08 113.71L506.60 113.71L507.12 113.71L507.64 113.71L508.16 113.71L508.68 113.71L509.20 113.71L509.72 113.71L510.24 113.71L510.76 113.71L511.28 113.71L511.81 113.71L512.33 113.71L512.85 113.71L513.37 113.71L513.89 113.71L514.41 113.71L514.93 113.71L515.45 113.71L515.97 113.71L516.49 113.71L517.01 113.71L517.53 113.71L518.05 113.71L518.57 113.71L519.09 113.71L519.61 113.71L520.13 113.71L520.65 113.71L521.17 113.71L521.69 113.71L522.21 113.71L522.73 113.71L523.25 113.71L523.77 113.71L524.29 113.71L524.81 113.71L525.33 113.71L525.85 113.71L526.49 113.71L527.01 113.50L527.53 110.91L528.05 107.07L528.57 103.50L529.09 99.45L529.61 95.53L530.13 92.39L530.65 89.73L531.17 87.49L531.69 85.83L532.21 84.60L532.73 84.10L533.25 83.82L533.77 83.62L534.29 83.41L534.81 83.24L535.33 83.08L535.85 82.80L536.37 81.84L536.89 80.06L537.41 78.04L537.93 75.49L538.45 72.86L538.97 70.30L539.50 67.93L540.02 65.84L540.54 65.93L541.06 68.22L541.58 70.66L542.10 72.94L542.62 75.30L543.14 77.60L543.66 79.80L544.18 81.95L544.70 83.98L545.22 85.83L545.74 87.55L546.26 88.92L546.78 90.03L547.30 92.06L547.82 94.34L548.34 96.59L548.86 98.84L549.38 101.01L549.90 103.16L550.42 105.19L550.94 106.97L551.46 108.57L551.98 110.05L552.50 111.36L553.02 112.45L553.54 113.39L554.06 114.21L554.58 114.90L555.10 115.42L555.62 115.90L556.14 116.34L556.66 116.71L557.19 117.00L557.71 117.18L558.23 117.28L558.75 117.36L559.27 117.43L559.79 117.48L560.31 117.52L560.83 117.55L561.35 117.56L561.87 117.54L562.39 117.50L562.91 117.43L563.43 117.35L563.95 117.25L564.47 117.14L564.99 117.03L565.51 116.91L566.03 116.78L566.55 116.66L567.07 116.55L567.59 116.45L568.11 116.36L568.63 116.26L569.15 116.16L569.67 116.06L570.19 115.96L570.71 115.85L571.23 115.75L571.75 115.65L572.27 115.56L572.79 115.47L573.31 115.39L573.83 115.31L574.35 115.24L574.87 115.18L575.40 115.12L575.92 115.07L576.44 115.02L576.96 114.97L577.48 114.92L578.00 114.87L578.52 114.83L579.04 114.78L579.56 114.74L580.08 114.70L580.60 114.66L581.12 114.63L581.64 114.59L582.16 114.56L582.68 114.53L583.20 114.49L583.72 114.46L584.24 114.43L584.76 114.40L585.28 114.38L585.80 114.35L586.32 114.32L586.84 114.29L587.36 114.26L587.88 114.23L588.40 114.20L588.92 114.17L589.44 114.14L589.96 114.11L590.48 114.09L591.00 114.06L591.52 114.03L592.04 114.00L592.56 113.98L593.09 113.95L593.61 113.93L594.13 113.91L594.65 113.88L595.17 113.86L595.69 113.84L596.21 113.82L596.73 113.81L597.25 113.79L597.77 113.77L598.29 113.76L598.81 113.75L599.33 113.74L599.85 113.73L600.37 113.72L600.89 113.72L601.41 113.71L601.93 113.71L602.45 113.71L602.97 113.71L603.49 113.71L604.01 113.71L604.53 113.71L605.05 113.71L605.57 113.71L606.09 113.71L606.61 113.71L607.13 113.71L607.65 113.71L608.17 113.71L608.69 113.71L609.21 113.71L609.73 113.71L610.25 113.71L610.78 113.71L611.30 113.71L611.82 113.71L612.34 113.71L612.86 113.71L613.38 113.71L613.90 113.71L614.42 113.71L614.94 113.71L615.46 113.71L615.98 113.71L616.50 113.71L617.02 113.71L617.54 113.71L618.06 113.71L618.58 113.71L619.10 113.71L619.62 113.71L620.14 113.71L620.66 113.71L621.18 113.71L621.70 113.71L622.22 113.71L622.74 113.71L623.26 113.71L623.78 113.71L624.30 113.71L624.82 113.71L625.34 113.71L625.86 113.71L626.38 113.71L626.90 113.71L627.42 113.71L627.94 113.71L628.47 113.71L628.99 113.71L629.51 113.71L630.03 113.71L630.55 113.71L631.07 113.71L631.59 113.71L632.11 113.71L632.63 113.71L633.15 113.71L633.67 113.71L634.19 113.71L634.71 113.71L635.23 113.71L635.75 113.71L636.27 113.71L636.79 113.71L637.31 113.71L637.83 113.71L638.35 113.71L638.87 113.71L639.39 113.71L639.91 113.71L640.43 113.71L640.95 113.71L641.47 113.71L641.99 113.71L642.51 113.71L643.03 113.71L643.55 113.71L644.07 113.71L644.59 113.71L645.11 113.71L645.63 113.71L646.15 113.71L646.68 113.71L647.20 113.71L647.72 113.71L648.24 113.71L648.76 113.71L649.28 113.71L649.80 113.71L650.32 113.71L650.84 113.71L651.36 113.71L651.88 113.71L652.40 113.71L652.92 113.71L653.44 113.71L653.96 113.71L654.48 113.71L655.00 113.71L655.52 113.71L656.04 113.71L656.56 113.71L657.08 113.71L657.60 113.71L658.12 113.71L658.64 113.71L659.16 113.71L659.68 113.71L660.20 113.71L660.72 113.71L661.24 113.71L661.76 113.71L662.28 113.71L662.80 113.71L663.32 113.71L663.84 113.71L664.37 113.71L664.89 113.71L665.41 113.71L665.93 113.71L666.45 113.71L666.97 113.71L667.49 113.71L668.01 113.71L668.53 113.71L669.05 113.71L669.57 113.71L670.09 113.71L670.61 113.71L671.13 113.71L671.65 113.71L672.17 113.71L672.69 113.71L673.21 113.71L673.73 113.71L673.80 113.71"/></g>
<g clip-path="url(#c2)"><path stroke="#c7164a" d="M150.39 299.67L157.67 299.67L157.93 290.63L158.19 281.71L158.45 273.02L158.71 264.69L158.97 256.83L159.23 249.54L159.49 242.92L159.75 237.05L160.01 232.02L160.27 227.89L160.53 224.72L160.79 222.54L161.05 221.39L161.21 221.20L161.47 221.84L161.73 223.74L161.99 226.82L162.25 230.97L162.51 236.05L162.77 241.86L163.03 248.19L163.29 254.81L163.55 261.49L163.81 267.96L164.07 274.01L164.33 279.40L164.59 283.95L164.85 287.47L165.11 289.85L165.37 291.00L165.48 291.10L165.74 290.61L166.00 289.15L166.26 286.78L166.52 283.59L166.78 279.68L167.04 275.22L167.30 270.35L167.56 265.25L167.82 260.12L168.08 255.14L168.34 250.49L168.60 246.34L168.86 242.84L169.12 240.13L169.38 238.30L169.64 237.42L169.74 237.34L170.00 238.24L170.26 240.91L170.52 245.26L170.78 251.17L171.04 258.43L171.30 266.81L171.56 276.07L171.82 285.88L172.08 295.96L172.34 305.97L172.60 315.60L172.86 324.54L173.12 332.50L173.38 339.25L173.64 344.55L173.90 348.24L174.16 350.21L174.32 350.53L174.58 349.89L174.84 347.96L175.10 344.81L175.36 340.52L175.62 335.23L175.88 329.09L176.14 322.28L176.40 314.98L176.66 307.43L176.92 299.83L177.18 292.40L177.44 285.37L177.70 278.93L177.96 273.28L178.22 268.58L178.48 264.97L178.74 262.54L179.00 261.38L179.11 261.27L179.37 261.82L179.63 263.45L179.89 266.10L180.15 269.70L180.41 274.12L180.67 279.24L180.93 284.88L181.19 290.86L181.45 297.01L181.71 303.11L181.97 308.98L182.23 314.43L182.49 319.29L182.75 323.40L183.01 326.63L183.27 328.88L183.53 330.08L183.69 330.28L183.95 329.89L184.21 328.75L184.47 326.89L184.73 324.35L184.99 321.21L185.25 317.55L185.51 313.48L185.77 309.12L186.03 304.57L186.29 299.97L186.55 295.45L186.81 291.14L187.07 287.14L187.33 283.58L187.59 280.55L187.85 278.14L188.11 276.42L188.37 275.43L188.58 275.18L188.84 275.51L189.10 276.48L189.36 278.07L189.62 280.22L189.88 282.88L190.14 285.95L190.40 289.35L190.66 292.98L190.92 296.72L191.18 300.46L191.44 304.09L191.70 307.49L191.96 310.56L192.22 313.22L192.48 315.37L192.74 316.96L193.00 317.93L193.26 318.26L193.52 318.01L193.78 317.29L194.04 316.10L194.30 314.49L194.56 312.50L194.82 310.18L195.08 307.62L195.34 304.87L195.60 302.02L195.86 299.16L196.12 296.37L196.38 293.72L196.64 291.30L196.90 289.17L197.16 287.40L197.42 286.04L197.68 285.12L197.94 284.68L198.05 284.64L198.31 284.83L198.57 285.39L198.83 286.30L199.09 287.54L199.35 289.07L199.61 290.85L199.87 292.82L200.13 294.93L200.39 297.11L200.65 299.31L200.91 301.46L201.17 303.50L201.43 305.36L201.69 306.99L201.95 308.35L202.21 309.40L202.47 310.10L202.73 310.44L202.83 310.47L203.09 310.32L203.35 309.87L203.61 309.15L203.87 308.16L204.13 306.95L204.39 305.54L204.65 303.98L204.91 302.33L205.17 300.62L205.43 298.91L205.69 297.25L205.95 295.69L206.21 294.28L206.47 293.07L206.73 292.09L206.99 291.36L207.25 290.92L207.51 290.77L207.77 290.88L208.03 291.20L208.30 291.73L208.56 292.45L208.82 293.34L209.08 294.38L209.34 295.52L209.60 296.75L209.86 298.02L210.12 299.30L210.38 300.55L210.64 301.74L210.90 302.82L211.16 303.77L211.42 304.56L211.68 305.17L211.94 305.58L212.20 305.77L212.30 305.79L212.56 305.70L212.82 305.44L213.08 305.02L213.34 304.44L213.60 303.72L213.86 302.90L214.12 301.98L214.38 301.01L214.64 300.00L214.90 299.00L215.16 298.02L215.42 297.11L215.68 296.28L215.94 295.57L216.20 294.99L216.46 294.57L216.72 294.30L216.98 294.22L217.24 294.28L217.50 294.47L217.76 294.78L218.02 295.20L218.28 295.72L218.54 296.33L218.80 297.00L219.07 297.72L219.33 298.46L219.59 299.21L219.85 299.94L220.11 300.64L220.37 301.27L220.63 301.83L220.89 302.29L221.15 302.65L221.41 302.88L221.67 303.00L221.77 303.01L222.03 302.96L222.29 302.81L222.55 302.58L222.81 302.25L223.07 301.86L223.33 301.40L223.59 300.89L223.85 300.34L224.11 299.78L224.37 299.22L224.63 298.68L224.89 298.17L225.15 297.71L225.41 297.31L225.67 296.99L225.93 296.75L226.19 296.60L226.45 296.55L226.71 296.59L226.97 296.71L227.23 296.90L227.49 297.15L227.75 297.47L228.01 297.84L228.27 298.24L228.53 298.68L228.79 299.13L229.05 299.59L229.31 300.03L229.57 300.45L229.84 300.84L230.10 301.18L230.36 301.46L230.62 301.67L230.88 301.82L231.14 301.89L231.24 301.90L231.50 301.86L231.76 301.77L232.02 301.62L232.28 301.41L232.54 301.16L232.80 300.87L233.06 300.54L233.32 300.19L233.58 299.84L233.84 299.48L234.10 299.13L234.36 298.81L234.62 298.51L234.88 298.26L235.14 298.05L235.40 297.90L235.66 297.81L235.92 297.78L236.18 297.80L236.44 297.87L236.70 297.99L236.96 298.15L237.22 298.35L237.48 298.58L237.74 298.83L238.00 299.11L238.26 299.39L238.52 299.67L238.78 299.95L239.04 300.22L239.30 300.46L239.56 300.67L239.82 300.84L240.08 300.98L240.35 301.07L240.61 301.11L240.71 301.12L240.97 301.10L241.23 301.04L241.49 300.95L241.75 300.82L242.01 300.66L242.27 300.48L242.53 300.27L242.79 300.06L243.05 299.84L243.31 299.61L243.57 299.40L243.83 299.20L244.09 299.01L244.35 298.86L244.61 298.73L244.87 298.63L245.13 298.58L245.39 298.56L245.65 298.57L245.91 298.61L246.17 298.69L246.43 298.78L246.69 298.90L246.95 299.04L247.21 299.19L247.47 299.35L247.73 299.52L247.99 299.70L248.25 299.86L248.51 300.02L248.77 300.16L249.03 300.29L249.29 300.40L249.55 300.48L249.81 300.53L250.07 300.56L250.18 300.56L250.44 300.55L250.70 300.51L250.96 300.46L251.22 300.38L251.48 300.28L251.74 300.17L252.00 300.05L252.26 299.92L252.52 299.78L252.78 299.65L253.04 299.51L253.30 299.39L253.56 299.28L253.82 299.18L254.08 299.11L254.34 299.05L254.60 299.01L254.86 299.00L255.12 299.01L255.38 299.04L255.64 299.08L255.90 299.13L256.16 299.20L256.42 299.28L256.68 299.37L256.94 299.47L257.20 299.57L257.46 299.67L257.72 299.76L257.98 299.86L258.24 299.94L258.50 300.01L258.76 300.08L259.02 300.12L259.28 300.15L259.54 300.17L259.65 300.17L259.91 300.16L260.17 300.14L260.43 300.11L260.69 300.07L260.95 300.01L261.21 299.95L261.47 299.88L261.73 299.80L261.99 299.73L262.25 299.65L262.51 299.57L262.77 299.50L263.03 299.44L263.29 299.38L263.55 299.34L263.81 299.31L264.07 299.29L264.33 299.28L264.59 299.29L264.85 299.30L265.11 299.32L265.37 299.36L265.63 299.40L265.89 299.45L266.15 299.50L266.41 299.56L266.67 299.61L266.93 299.67L267.19 299.73L267.45 299.78L267.71 299.83L267.97 299.88L268.23 299.91L268.49 299.94L268.75 299.96L269.01 299.97L269.12 299.97L269.38 299.97L269.64 299.95L269.90 299.94L270.16 299.91L270.42 299.88L270.68 299.84L270.94 299.80L271.20 299.75L271.46 299.71L271.72 299.66L271.98 299.62L272.24 299.58L272.50 299.54L272.76 299.51L273.02 299.48L273.28 299.46L273.54 299.45L273.80 299.45L274.06 299.45L274.32 299.46L274.58 299.47L274.84 299.49L275.10 299.51L275.36 299.54L275.62 299.57L275.88 299.60L276.14 299.64L276.40 299.67L276.66 299.70L276.92 299.73L277.18 299.76L277.44 299.78L277.70 299.81L277.96 299.82L278.22 299.83L278.48 299.84L278.59 299.84L278.85 299.84L279.11 299.83L279.37 299.82L279.63 299.81L279.89 299.80L280.15 299.78L280.41 299.76L280.67 299.75L280.93 299.73L281.19 299.71L281.45 299.70L281.71 299.69L281.97 299.68L282.23 299.67L282.49 299.67L282.54 299.67L282.54 299.67L282.80 290.63L283.06 281.71L283.32 273.02L283.58 264.69L283.84 256.83L284.10 249.54L284.36 242.92L284.62 237.05L284.88 232.02L285.14 227.89L285.40 224.72L285.66 222.54L285.92 221.39L286.08 221.20L286.34 221.84L286.60 223.74L286.86 226.82L287.12 230.97L287.38 236.05L287.64 241.86L287.90 248.19L288.16 254.81L288.42 261.49L288.68 267.96L288.94 274.01L289.20 279.40L289.46 283.95L289.72 287.47L289.98 289.85L290.24 291.00L290.35 291.10L290.61 290.61L290.87 289.15L291.13 286.78L291.39 283.59L291.65 279.68L291.91 275.22L292.17 270.35L292.43 265.25L292.69 260.12L292.95 255.14L293.21 250.49L293.47 246.34L293.73 242.84L293.99 240.13L294.25 238.30L294.51 237.42L294.61 237.34L294.87 238.24L295.13 240.91L295.39 245.26L295.65 251.17L295.91 258.43L296.17 266.81L296.43 276.07L296.69 285.88L296.95 295.96L297.21 305.97L297.47 315.60L297.73 324.54L297.99 332.50L298.25 339.25L298.51 344.55L298.77 348.24L299.03 350.21L299.19 350.53L299.45 349.89L299.71 347.96L299.97 344.81L300.23 340.52L300.49 335.23L300.75 329.09L301.01 322.28L301.27 314.98L301.53 307.43L301.79 299.83L302.05 292.40L302.31 285.37L302.57 278.93L302.83 273.28L303.09 268.58L303.35 264.97L303.61 262.54L303.87 261.38L303.98 261.27L304.24 261.82L304.50 263.45L304.76 266.10L305.02 269.70L305.28 274.12L305.54 279.24L305.80 284.88L306.06 290.86L306.32 297.01L306.58 303.11L306.84 308.98L307.10 314.43L307.36 319.29L307.62 323.40L307.88 326.63L308.14 328.88L308.40 330.08L308.56 330.28L308.82 329.89L309.08 328.75L309.34 326.89L309.60 324.35L309.86 321.21L310.12 317.55L310.38 313.48L310.64 309.12L310.90 304.57L311.16 299.97L311.42 295.45L311.68 291.14L311.94 287.14L312.20 283.58L312.46 280.55L312.72 278.14L312.98 276.42L313.24 275.43L313.45 275.18L313.71 275.51L313.97 276.48L314.23 278.07L314.49 280.22L314.75 282.88L315.01 285.95L315.27 289.35L315.53 292.98L315.79 296.72L316.05 300.46L316.31 304.09L316.57 307.49L316.83 310.56L317.09 313.22L317.35 315.37L317.61 316.96L317.87 317.93L318.13 318.26L318.39 318.01L318.65 317.29L318.91 316.10L319.17 314.49L319.43 312.50L319.69 310.18L319.95 307.62L320.21 304.87L320.47 302.02L320.73 299.16L320.99 296.37L321.25 293.72L321.51 291.30L321.77 289.17L322.03 287.40L322.29 286.04L322.55 285.12L322.81 284.68L322.92 284.64L323.18 284.83L323.44 285.39L323.70 286.30L323.96 287.54L324.22 289.07L324.48 290.85L324.74 292.82L325.00 294.93L325.26 297.11L325.52 299.31L325.78 301.46L326.04 303.50L326.30 305.36L326.56 306.99L326.82 308.35L327.08 309.40L327.34 310.10L327.60 310.44L327.70 310.47L327.96 310.32L328.22 309.87L328.48 309.15L328.74 308.16L329.00 306.95L329.26 305.54L329.52 303.98L329.78 302.33L330.04 300.62L330.30 298.91L330.56 297.25L330.82 295.69L331.08 294.28L331.34 293.07L331.60 292.09L331.86 291.36L332.12 290.92L332.38 290.77L332.64 290.88L332.90 291.20L333.17 291.73L333.43 292.45L333.69 293.34L333.95 294.38L334.21 295.52L334.47 296.75L334.73 298.02L334.99 299.30L335.25 300.55L335.51 301.74L335.77 302.82L336.03 303.77L336.29 304.56L336.55 305.17L336.81 305.58L337.07 305.77L337.17 305.79L337.43 305.70L337.69 305.44L337.95 305.02L338.21 304.44L338.47 303.72L338.73 302.90L338.99 301.98L339.25 301.01L339.51 300.00L339.77 299.00L340.03 298.02L340.29 297.11L340.55 296.28L340.81 295.57L341.07 294.99L341.33 294.57L341.59 294.30L341.85 294.22L342.11 294.28L342.37 294.47L342.63 294.78L342.89 295.20L343.15 295.72L343.41 296.33L343.67 297.00L343.94 297.72L344.20 298.46L344.46 299.21L344.72 299.94L344.98 300.64L345.24 301.27L345.50 301.83L345.76 302.29L346.02 302.65L346.28 302.88L346.54 303.00L346.64 303.01L346.90 302.96L347.16 302.81L347.42 302.58L347.68 302.25L347.94 301.86L348.20 301.40L348.46 300.89L348.72 300.34L348.98 299.78L349.24 299.22L349.50 298.68L349.76 298.17L350.02 297.71L350.28 297.31L350.54 296.99L350.80 296.75L351.06 296.60L351.32 296.55L351.58 296.59L351.84 296.71L352.10 296.90L352.36 297.15L352.62 297.47L352.88 297.84L353.14 298.24L353.40 298.68L353.66 299.13L353.92 299.59L354.18 300.03L354.44 300.45L354.71 300.84L354.97 301.18L355.23 301.46L355.49 301.67L355.75 301.82L356.01 301.89L356.11 301.90L356.37 301.86L356.63 301.77L356.89 301.62L357.15 301.41L357.41 301.16L357.67 300.87L357.93 300.54L358.19 300.19L358.45 299.84L358.71 299.48L358.97 299.13L359.23 298.81L359.49 298.51L359.75 298.26L360.01 298.05L360.27 297.90L360.53 297.81L360.79 297.78L361.05 297.80L361.31 297.87L361.57 297.99L361.83 298.15L362.09 298.35L362.35 298.58L362.61 298.83L362.87 299.11L363.13 299.39L363.39 299.67L363.65 299.95L363.91 300.22L364.17 300.46L364.43 300.67L364.69 300.84L364.95 300.98L365.22 301.07L365.48 301.11L365.58 301.12L365.84 301.10L366.10 301.04L366.36 300.95L366.62 300.82L366.88 300.66L367.14 300.48L367.40 300.27L367.66 300.06L367.92 299.84L368.18 299.61L368.44 299.40L368.70 299.20L368.96 299.01L369.22 298.86L369.48 298.73L369.74 298.63L370.00 298.58L370.26 298.56L370.52 298.57L370.78 298.61L371.04 298.69L371.30 298.78L371.56 298.90L371.82 299.04L372.08 299.19L372.34 299.35L372.60 299.52L372.86 299.70L373.12 299.86L373.38 300.02L373.64 300.16L373.90 300.29L374.16 300.40L374.42 300.48L374.68 300.53L374.94 300.56L375.05 300.56L375.31 300.55L375.57 300.51L375.83 300.46L376.09 300.38L376.35 300.28L376.61 300.17L376.87 300.05L377.13 299.92L377.39 299.78L377.65 299.65L377.91 299.51L378.17 299.39L378.43 299.28L378.69 299.18L378.95 299.11L379.21 299.05L379.47 299.01L379.73 299.00L379.99 299.01L380.25 299.04L380.51 299.08L380.77 299.13L381.03 299.20L381.29 299.28L381.55 299.37L381.81 299.47L382.07 299.57L382.33 299.67L382.59 299.76L382.85 299.86L383.11 299.94L383.37 300.01L383.63 300.08L383.89 300.12L384.15 300.15L384.41 300.17L384.52 300.17L384.78 300.16L385.04 300.14L385.30 300.11L385.56 300.07L385.82 300.01L386.08 299.95L386.34 299.88L386.60 299.80L386.86 299.73L387.12 299.65L387.38 299.57L387.64 299.50L387.90 299.44L388.16 299.38L388.42 299.34L388.68 299.31L388.94 299.29L389.20 299.28L389.46 299.29L389.72 299.30L389.98 299.32L390.24 299.36L390.50 299.40L390.76 299.45L391.02 299.50L391.28 299.56L391.54 299.61L391.80 299.67L392.06 299.73L392.32 299.78L392.58 299.83L392.84 299.88L393.10 299.91L393.36 299.94L393.62 299.96L393.88 299.97L393.99 299.97L394.25 299.97L394.51 299.95L394.77 299.94L395.03 299.91L395.29 299.88L395.55 299.84L395.81 299.80L396.07 299.75L396.33 299.71L396.59 299.66L396.85 299.62L397.11 299.58L397.37 299.54L397.63 299.51L397.89 299.48L398.15 299.46L398.41 299.45L398.67 299.45L398.93 299.45L399.19 299.46L399.45 299.47L399.71 299.49L399.97 299.51L400.23 299.54L400.49 299.57L400.75 299.60L401.01 299.64L401.27 299.67L401.53 299.70L401.79 299.73L402.05 299.76L402.31 299.78L402.57 299.81L402.83 299.82L403.09 299.83L403.35 299.84L403.46 299.84L403.72 299.84L403.98 299.83L404.24 299.82L404.50 299.81L404.76 299.80L405.02 299.78L405.28 299.76L405.54 299.75L405.80 299.73L406.06 299.71L406.32 299.70L406.58 299.69L406.84 299.68L407.10 299.67L407.36 299.67L407.41 299.67L407.41 299.67L407.67 290.63L407.93 281.71L408.19 273.02L408.45 264.69L408.71 256.83L408.97 249.54L409.23 242.92L409.49 237.05L409.75 232.02L410.01 227.89L410.27 224.72L410.53 222.54L410.79 221.39L410.95 221.20L411.21 221.84L411.47 223.74L411.73 226.82L411.99 230.97L412.25 236.05L412.51 241.86L412.77 248.19L413.03 254.81L413.29 261.49L413.55 267.96L413.81 274.01L414.07 279.40L414.33 283.95L414.59 287.47L414.85 289.85L415.11 291.00L415.22 291.10L415.48 290.61L415.74 289.15L416.00 286.78L416.26 283.59L416.52 279.68L416.78 275.22L417.04 270.35L417.30 265.25L417.56 260.12L417.82 255.14L418.08 250.49L418.34 246.34L418.60 242.84L418.86 240.13L419.12 238.30L419.38 237.42L419.48 237.34L419.74 238.24L420.00 240.91L420.26 245.26L420.52 251.17L420.78 258.43L421.04 266.81L421.30 276.07L421.56 285.88L421.82 295.96L422.08 305.97L422.34 315.60L422.60 324.54L422.86 332.50L423.12 339.25L423.38 344.55L423.64 348.24L423.90 350.21L424.06 350.53L424.32 349.89L424.58 347.96L424.84 344.81L425.10 340.52L425.36 335.23L425.62 329.09L425.88 322.28L426.14 314.98L426.40 307.43L426.66 299.83L426.92 292.40L427.18 285.37L427.44 278.93L427.70 273.28L427.96 268.58L428.22 264.97L428.48 262.54L428.74 261.38L428.85 261.27L429.11 261.82L429.37 263.45L429.63 266.10L429.89 269.70L430.15 274.12L430.41 279.24L430.67 284.88L430.93 290.86L431.19 297.01L431.45 303.11L431.71 308.98L431.97 314.43L432.23 319.29L432.49 323.40L432.75 326.63L433.01 328.88L433.27 330.08L433.43 330.28L433.69 329.89L433.95 328.75L434.21 326.89L434.47 324.35L434.73 321.21L434.99 317.55L435.25 313.48L435.51 309.12L435.77 304.57L436.03 299.97L436.29 295.45L436.55 291.14L436.81 287.14L437.07 283.58L437.33 280.55L437.59 278.14L437.85 276.42L438.11 275.43L438.32 275.18L438.58 275.51L438.84 276.48L439.10 278.07L439.36 280.22L439.62 282.88L439.88 285.95L440.14 289.35L440.40 292.98L440.66 296.72L440.92 300.46L441.18 304.09L441.44 307.49L441.70 310.56L441.96 313.22L442.22 315.37L442.48 316.96L442.74 317.93L443.00 318.26L443.26 318.01L443.52 317.29L443.78 316.10L444.04 314.49L444.30 312.50L444.56 310.18L444.82 307.62L445.08 304.87L445.34 302.02L445.60 299.16L445.86 296.37L446.12 293.72L446.38 291.30L446.64 289.17L446.90 287.40L447.16 286.04L447.42 285.12L447.68 284.68L447.79 284.64L448.05 284.83L448.31 285.39L448.57 286.30L448.83 287.54L449.09 289.07L449.35 290.85L449.61 292.82L449.87 294.93L450.13 297.11L450.39 299.31L450.65 301.46L450.91 303.50L451.17 305.36L451.43 306.99L451.69 308.35L451.95 309.40L452.21 310.10L452.47 310.44L452.57 310.47L452.83 310.32L453.09 309.87L453.35 309.15L453.61 308.16L453.87 306.95L454.13 305.54L454.39 303.98L454.65 302.33L454.91 300.62L455.17 298.91L455.43 297.25L455.69 295.69L455.95 294.28L456.21 293.07L456.47 292.09L456.73 291.36L456.99 290.92L457.25 290.77L457.51 290.88L457.77 291.20L458.04 291.73L458.30 292.45L458.56 293.34L458.82 294.38L459.08 295.52L459.34 296.75L459.60 298.02L459.86 299.30L460.12 300.55L460.38 301.74L460.64 302.82L460.90 303.77L461.16 304.56L461.42 305.17L461.68 305.58L461.94 305.77L462.04 305.79L462.30 305.70L462.56 305.44L462.82 305.02L463.08 304.44L463.34 303.72L463.60 302.90L463.86 301.98L464.12 301.01L464.38 300.00L464.64 299.00L464.90 298.02L465.16 297.11L465.42 296.28L465.68 295.57L465.94 294.99L466.20 294.57L466.46 294.30L466.72 294.22L466.98 294.28L467.24 294.47L467.50 294.78L467.76 295.20L468.02 295.72L468.28 296.33L468.54 297.00L468.81 297.72L469.07 298.46L469.33 299.21L469.59 299.94L469.85 300.64L470.11 301.27L470.37 301.83L470.63 302.29L470.89 302.65L471.15 302.88L471.41 303.00L471.51 303.01L471.77 302.96L472.03 302.81L472.29 302.58L472.55 302.25L472.81 301.86L473.07 301.40L473.33 300.89L473.59 300.34L473.85 299.78L474.11 299.22L474.37 298.68L474.63 298.17L474.89 297.71L475.15 297.31L475.41 296.99L475.67 296.75L475.93 296.60L476.19 296.55L476.45 296.59L476.71 296.71L476.97 296.90L477.23 297.15L477.49 297.47L477.75 297.84L478.01 298.24L478.27 298.68L478.53 299.13L478.79 299.59L479.05 300.03L479.31 300.45L479.58 300.84L479.84 301.18L480.10 301.46L480.36 301.67L480.62 301.82L480.88 301.89L480.98 301.90L481.24 301.86L481.50 301.77L481.76 301.62L482.02 301.41L482.28 301.16L482.54 300.87L482.80 300.54L483.06 300.19L483.32 299.84L483.58 299.48L483.84 299.13L484.10 298.81L484.36 298.51L484.62 298.26L484.88 298.05L485.14 297.90L485.40 297.81L485.66 297.78L485.92 297.80L486.18 297.87L486.44 297.99L486.70 298.15L486.96 298.35L487.22 298.58L487.48 298.83L487.74 299.11L488.00 299.39L488.26 299.67L488.52 299.95L488.78 300.22L489.04 300.46L489.30 300.67L489.56 300.84L489.82 300.98L490.09 301.07L490.35 301.11L490.45 301.12L490.71 301.10L490.97 301.04L491.23 300.95L491.49 300.82L491.75 300.66L492.01 300.48L492.27 300.27L492.53 300.06L492.79 299.84L493.05 299.61L493.31 299.40L493.57 299.20L493.83 299.01L494.09 298.86L494.35 298.73L494.61 298.63L494.87 298.58L495.13 298.56L495.39 298.57L495.65 298.61L495.91 298.69L496.17 298.78L496.43 298.90L496.69 299.04L496.95 299.19L497.21 299.35L497.47 299.52L497.73 299.70L497.99 299.86L498.25 300.02L498.51 300.16L498.77 300.29L499.03 300.40L499.29 300.48L499.55 300.53L499.81 300.56L499.92 300.56L500.18 300.55L500.44 300.51L500.70 300.46L500.96 300.38L501.22 300.28L501.48 300.17L501.74 300.05L502.00 299.92L502.26 299.78L502.52 299.65L502.78 299.51L503.04 299.39L503.30 299.28L503.56 299.18L503.82 299.11L504.08 299.05L504.34 299.01L504.60 299.00L504.86 299.01L505.12 299.04L505.38 299.08L505.64 299.13L505.90 299.20L506.16 299.28L506.42 299.37L506.68 299.47L506.94 299.57L507.20 299.67L507.46 299.76L507.72 299.86L507.98 299.94L508.24 300.01L508.50 300.08L508.76 300.12L509.02 300.15L509.28 300.17L509.39 300.17L509.65 300.16L509.91 300.14L510.17 300.11L510.43 300.07L510.69 300.01L510.95 299.95L511.21 299.88L511.47 299.80L511.73 299.73L511.99 299.65L512.25 299.57L512.51 299.50L512.77 299.44L513.03 299.38L513.29 299.34L513.55 299.31L513.81 299.29L514.07 299.28L514.33 299.29L514.59 299.30L514.85 299.32L515.11 299.36L515.37 299.40L515.63 299.45L515.89 299.50L516.15 299.56L516.41 299.61L516.67 299.67L516.93 299.73L517.19 299.78L517.45 299.83L517.71 299.88L517.97 299.91L518.23 299.94L518.49 299.96L518.75 299.97L518.86 299.97L519.12 299.97L519.38 299.95L519.64 299.94L519.90 299.91L520.16 299.88L520.42 299.84L520.68 299.80L520.94 299.75L521.20 299.71L521.46 299.66L521.72 299.62L521.98 299.58L522.24 299.54L522.50 299.51L522.76 299.48L523.02 299.46L523.28 299.45L523.54 299.45L523.80 299.45L524.06 299.46L524.32 299.47L524.58 299.49L524.84 299.51L525.10 299.54L525.36 299.57L525.62 299.60L525.88 299.64L526.14 299.67L526.40 299.70L526.66 299.73L526.92 299.76L527.18 299.78L527.44 299.81L527.70 299.82L527.96 299.83L528.22 299.84L528.33 299.84L528.59 299.84L528.85 299.83L529.11 299.82L529.37 299.81L529.63 299.80L529.89 299.78L530.15 299.76L530.41 299.75L530.67 299.73L530.93 299.71L531.19 299.70L531.45 299.69L531.71 299.68L531.97 299.67L532.23 299.67L532.28 299.67L532.28 299.67L532.54 290.63L532.80 281.71L533.06 273.02L533.32 264.69L533.58 256.83L533.84 249.54L534.10 242.92L534.36 237.05L534.62 232.02L534.88 227.89L535.14 224.72L535.40 222.54L535.66 221.39L535.82 221.20L536.08 221.84L536.34 223.74L536.60 226.82L536.86 230.97L537.12 236.05L537.38 241.86L537.64 248.19L537.90 254.81L538.16 261.49L538.42 267.96L538.68 274.01L538.94 279.40L539.20 283.95L539.46 287.47L539.72 289.85L539.98 291.00L540.09 291.10L540.35 290.61L540.61 289.15L540.87 286.78L541.13 283.59L541.39 279.68L541.65 275.22L541.91 270.35L542.17 265.25L542.43 260.12L542.69 255.14L542.95 250.49L543.21 246.34L543.47 242.84L543.73 240.13L543.99 238.30L544.25 237.42L544.35 237.34L544.61 238.24L544.87 240.91L545.13 245.26L545.39 251.17L545.65 258.43L545.91 266.81L546.17 276.07L546.43 285.88L546.69 295.96L546.95 305.97L547.21 315.60L547.47 324.54L547.73 332.50L547.99 339.25L548.25 344.55L548.51 348.24L548.77 350.21L548.93 350.53L549.19 349.89L549.45 347.96L549.71 344.81L549.97 340.52L550.23 335.23L550.49 329.09L550.75 322.28L551.01 314.98L551.27 307.43L551.53 299.83L551.79 292.40L552.05 285.37L552.31 278.93L552.57 273.28L552.83 268.58L553.09 264.97L553.35 262.54L553.61 261.38L553.72 261.27L553.98 261.82L554.24 263.45L554.50 266.10L554.76 269.70L555.02 274.12L555.28 279.24L555.54 284.88L555.80 290.86L556.06 297.01L556.32 303.11L556.58 308.98L556.84 314.43L557.10 319.29L557.36 323.40L557.62 326.63L557.88 328.88L558.14 330.08L558.30 330.28L558.56 329.89L558.82 328.75L559.08 326.89L559.34 324.35L559.60 321.21L559.86 317.55L560.12 313.48L560.38 309.12L560.64 304.57L560.90 299.97L561.16 295.45L561.42 291.14L561.68 287.14L561.94 283.58L562.20 280.55L562.46 278.14L562.72 276.42L562.98 275.43L563.19 275.18L563.45 275.51L563.71 276.48L563.97 278.07L564.23 280.22L564.49 282.88L564.75 285.95L565.01 289.35L565.27 292.98L565.53 296.72L565.79 300.46L566.05 304.09L566.31 307.49L566.57 310.56L566.83 313.22L567.09 315.37L567.35 316.96L567.61 317.93L567.87 318.26L568.13 318.01L568.39 317.29L568.65 316.10L568.91 314.49L569.17 312.50L569.43 310.18L569.69 307.62L569.95 304.87L570.21 302.02L570.47 299.16L570.73 296.37L570.99 293.72L571.25 291.30L571.51 289.17L571.77 287.40L572.03 286.04L572.29 285.12L572.55 284.68L572.66 284.64L572.92 284.83L573.18 285.39L573.44 286.30L573.70 287.54L573.96 289.07L574.22 290.85L574.48 292.82L574.74 294.93L575.00 297.11L575.26 299.31L575.52 301.46L575.78 303.50L576.04 305.36L576.30 306.99L576.56 308.35L576.82 309.40L577.08 310.10L577.34 310.44L577.44 310.47L577.70 310.32L577.96 309.87L578.22 309.15L578.48 308.16L578.74 306.95L579.00 305.54L579.26 303.98L579.52 302.33L579.78 300.62L580.04 298.91L580.30 297.25L580.56 295.69L580.82 294.28L581.08 293.07L581.34 292.09L581.60 291.36L581.86 290.92L582.12 290.77L582.38 290.88L582.64 291.20L582.91 291.73L583.17 292.45L583.43 293.34L583.69 294.38L583.95 295.52L584.21 296.75L584.47 298.02L584.73 299.30L584.99 300.55L585.25 301.74L585.51 302.82L585.77 303.77L586.03 304.56L586.29 305.17L586.55 305.58L586.81 305.77L586.91 305.79L587.17 305.70L587.43 305.44L587.69 305.02L587.95 304.44L588.21 303.72L588.47 302.90L588.73 301.98L588.99 301.01L589.25 300.00L589.51 299.00L589.77 298.02L590.03 297.11L590.29 296.28L590.55 295.57L590.81 294.99L591.07 294.57L591.33 294.30L591.59 294.22L591.85 294.28L592.11 294.47L592.37 294.78L592.63 295.20L592.89 295.72L593.15 296.33L593.41 297.00L593.68 297.72L593.94 298.46L594.20 299.21L594.46 299.94L594.72 300.64L594.98 301.27L595.24 301.83L595.50 302.29L595.76 302.65L596.02 302.88L596.28 303.00L596.38 303.01L596.64 302.96L596.90 302.81L597.16 302.58L597.42 302.25L597.68 301.86L597.94 301.40L598.20 300.89L598.46 300.34L598.72 299.78L598.98 299.22L599.24 298.68L599.50 298.17L599.76 297.71L600.02 297.31L600.28 296.99L600.54 296.75L600.80 296.60L601.06 296.55L601.32 296.59L601.58 296.71L601.84 296.90L602.10 297.15L602.36 297.47L602.62 297.84L602.88 298.24L603.14 298.68L603.40 299.13L603.66 299.59L603.92 300.03L604.18 300.45L604.45 300.84L604.71 301.18L604.97 301.46L605.23 301.67L605.49 301.82L605.75 301.89L605.85 301.90L606.11 301.86L606.37 301.77L606.63 301.62L606.89 301.41L607.15 301.16L607.41 300.87L607.67 300.54L607.93 300.19L608.19 299.84L608.45 299.48L608.71 299.13L608.97 298.81L609.23 298.51L609.49 298.26L609.75 298.05L610.01 297.90L610.27 297.81L610.53 297.78L610.79 297.80L611.05 297.87L611.31 297.99L611.57 298.15L611.83 298.35L612.09 298.58L612.35 298.83L612.61 299.11L612.87 299.39L613.13 299.67L613.39 299.95L613.65 300.22L613.91 300.46L614.17 300.67L614.43 300.84L614.69 300.98L614.96 301.07L615.22 301.11L615.32 301.12L615.58 301.10L615.84 301.04L616.10 300.95L616.36 300.82L616.62 300.66L616.88 300.48L617.14 300.27L617.40 300.06L617.66 299.84L617.92 299.61L618.18 299.40L618.44 299.20L618.70 299.01L618.96 298.86L619.22 298.73L619.48 298.63L619.74 298.58L620.00 298.56L620.26 298.57L620.52 298.61L620.78 298.69L621.04 298.78L621.30 298.90L621.56 299.04L621.82 299.19L622.08 299.35L622.34 299.52L622.60 299.70L622.86 299.86L623.12 300.02L623.38 300.16L623.64 300.29L623.90 300.40L624.16 300.48L624.42 300.53L624.68 300.56L624.79 300.56L625.05 300.55L625.31 300.51L625.57 300.46L625.83 300.38L626.09 300.28L626.35 300.17L626.61 300.05L626.87 299.92L627.13 299.78L627.39 299.65L627.65 299.51L627.91 299.39L628.17 299.28L628.43 299.18L628.69 299.11L628.95 299.05L629.21 299.01L629.47 299.00L629.73 299.01L629.99 299.04L630.25 299.08L630.51 299.13L630.77 299.20L631.03 299.28L631.29 299.37L631.55 299.47L631.81 299.57L632.07 299.67L632.33 299.76L632.59 299.86L632.85 299.94L633.11 300.01L633.37 300.08L633.63 300.12L633.89 300.15L634.15 300.17L634.26 300.17L634.52 300.16L634.78 300.14L635.04 300.11L635.30 300.07L635.56 300.01L635.82 299.95L636.08 299.88L636.34 299.80L636.60 299.73L636.86 299.65L637.12 299.57L637.38 299.50L637.64 299.44L637.90 299.38L638.16 299.34L638.42 299.31L638.68 299.29L638.94 299.28L639.20 299.29L639.46 299.30L639.72 299.32L639.98 299.36L640.24 299.40L640.50 299.45L640.76 299.50L641.02 299.56L641.28 299.61L641.54 299.67L641.80 299.73L642.06 299.78L642.32 299.83L642.58 299.88L642.84 299.91L643.10 299.94L643.36 299.96L643.62 299.97L643.73 299.97L643.99 299.97L644.25 299.95L644.51 299.94L644.77 299.91L645.03 299.88L645.29 299.84L645.55 299.80L645.81 299.75L646.07 299.71L646.33 299.66L646.59 299.62L646.85 299.58L647.11 299.54L647.37 299.51L647.63 299.48L647.89 299.46L648.15 299.45L648.41 299.45L648.67 299.45L648.93 299.46L649.19 299.47L649.45 299.49L649.71 299.51L649.97 299.54L650.23 299.57L650.49 299.60L650.75 299.64L651.01 299.67L651.27 299.70L651.53 299.73L651.79 299.76L652.05 299.78L652.31 299.81L652.57 299.82L652.83 299.83L653.09 299.84L653.20 299.84L653.46 299.84L653.72 299.83L653.98 299.82L654.24 299.81L654.50 299.80L654.76 299.78L655.02 299.76L655.28 299.75L655.54 299.73L655.80 299.71L656.06 299.70L656.32 299.69L656.58 299.68L656.84 299.67L657.10 299.67L657.15 299.67L673.80 299.67"/><path stroke="#000" d="M49.45 299.67L49.97 299.67L50.49 299.67L51.01 299.67L51.53 299.67L52.05 299.67L52.57 299.67L53.09 299.67L53.61 299.67L54.13 299.67L54.65 299.67L55.17 299.67L55.69 299.67L56.21 299.67L56.73 299.67L57.25 299.67L57.77 299.67L58.29 299.67L58.82 299.67L59.34 299.67L59.86 299.67L60.38 299.67L60.90 299.67L61.42 299.67L61.94 299.67L62.46 299.67L62.98 299.67L63.50 299.67L64.02 299.67L64.54 299.67L65.06 299.67L65.58 299.67L66.10 299.67L66.62 299.67L67.14 299.67L67.66 299.67L68.18 299.67L68.70 299.67L69.22 299.67L69.74 299.67L70.26 299.67L70.78 299.67L71.30 299.67L71.82 299.67L72.34 299.67L72.86 299.67L73.38 299.67L73.90 299.67L74.42 299.67L74.94 299.67L75.46 299.67L75.98 299.67L76.51 299.67L77.03 299.67L77.55 299.67L78.07 299.67L78.59 299.67L79.11 299.67L79.63 299.67L80.15 299.67L80.67 299.67L81.19 299.67L81.71 299.67L82.23 299.67L82.75 299.67L83.27 299.67L83.79 299.67L84.31 299.67L84.83 299.67L85.35 299.67L85.87 299.67L86.39 299.67L86.91 299.67L87.43 299.67L87.95 299.67L88.47 299.67L88.99 299.67L89.51 299.67L90.03 299.67L90.55 299.67L91.07 299.67L91.59 299.67L92.11 299.67L92.63 299.67L93.15 299.67L93.67 299.67L94.20 299.67L94.72 299.67L95.24 299.67L95.76 299.67L96.28 299.67L96.80 299.67L97.32 299.67L97.84 299.67L98.36 299.67L98.88 299.67L99.40 299.67L99.92 299.67L100.44 299.67L100.96 299.67L101.48 299.67L102.00 299.67L102.52 299.67L103.04 299.67L103.56 299.67L104.08 299.67L104.60 299.67L105.12 299.67L105.64 299.67L106.16 299.67L106.68 299.67L107.20 299.67L107.72 299.67L108.24 299.67L108.76 299.67L109.28 299.67L109.80 299.67L110.32 299.67L110.84 299.67L111.36 299.67L111.88 299.67L112.41 299.67L112.93 299.67L113.45 299.67L113.97 299.67L114.49 299.67L115.01 299.67L115.53 299.67L116.05 299.67L116.57 299.67L117.09 299.67L117.61 299.67L118.13 299.67L118.65 299.67L119.17 299.67L119.69 299.67L120.21 299.67L120.73 299.67L121.25 299.67L121.77 299.67L122.29 299.67L122.81 299.67L123.33 299.67L123.85 299.67L124.37 299.67L124.89 299.67L125.41 299.67L125.93 299.67L126.45 299.67L126.97 299.67L127.49 299.67L128.01 299.67L128.53 299.67L129.05 299.67L129.57 299.67L130.10 299.67L130.62 299.67L131.14 299.67L131.66 299.67L132.18 299.67L132.70 299.67L133.22 299.67L133.74 299.67L134.26 299.67L134.78 299.67L135.30 299.67L135.82 299.67L136.34 299.67L136.86 299.67L137.38 299.67L137.90 299.67L138.42 299.67L138.94 299.67L139.46 299.67L139.98 299.67L140.50 299.67L141.02 299.67L141.54 299.67L142.06 299.67L142.58 299.67L143.10 299.67L143.62 299.67L144.14 299.67L144.66 299.67L145.18 299.67L145.70 299.67L146.22 299.67L146.74 299.67L147.26 299.67L147.79 299.67L148.31 299.67L148.83 299.67L149.35 299.67L149.87 299.67L150.39 299.67L150.91 299.67L151.43 299.67L151.95 299.67L152.47 299.67L152.99 300.29L153.51 302.35L154.03 304.97L154.55 308.67L155.07 313.50L155.59 318.57L156.11 324.01L156.63 330.45L157.15 335.24L157.67 334.94L158.19 324.97L158.71 312.46L159.23 303.86L159.75 296.39L160.27 288.95L160.79 280.61L161.31 270.93L161.83 262.60L162.35 256.18L162.87 251.68L163.39 249.18L163.91 247.34L164.43 245.59L164.95 244.03L165.48 242.57L166.00 241.14L166.52 239.69L167.04 238.27L167.56 236.87L168.08 235.49L168.60 234.12L169.12 232.91L169.64 226.17L170.16 215.98L170.68 220.26L171.20 227.75L171.72 233.89L172.24 240.48L172.76 248.29L173.28 256.45L173.80 264.54L174.32 271.84L174.84 278.55L175.36 285.28L175.88 291.59L176.40 296.71L176.92 301.21L177.44 304.80L177.96 307.47L178.48 309.45L179.00 310.90L179.52 311.93L180.04 312.68L180.56 313.09L181.08 313.31L181.60 313.35L182.12 313.27L182.64 313.11L183.16 312.90L183.69 312.67L184.21 312.32L184.73 311.93L185.25 311.57L185.77 311.21L186.29 310.85L186.81 310.48L187.33 310.11L187.85 309.74L188.37 309.38L188.89 309.02L189.41 308.67L189.93 308.33L190.45 307.99L190.97 307.66L191.49 307.34L192.01 307.02L192.53 306.70L193.05 306.39L193.57 306.09L194.09 305.79L194.61 305.49L195.13 305.20L195.65 304.90L196.17 304.59L196.69 304.28L197.21 303.98L197.73 303.69L198.25 303.42L198.77 303.16L199.29 302.94L199.81 302.75L200.33 302.59L200.85 302.44L201.38 302.30L201.90 302.16L202.42 302.03L202.94 301.91L203.46 301.79L203.98 301.68L204.50 301.57L205.02 301.47L205.54 301.37L206.06 301.28L206.58 301.19L207.10 301.11L207.62 301.04L208.14 300.97L208.66 300.90L209.18 300.84L209.70 300.78L210.22 300.73L210.74 300.68L211.26 300.62L211.78 300.57L212.30 300.53L212.82 300.48L213.34 300.43L213.86 300.39L214.38 300.35L214.90 300.30L215.42 300.26L215.94 300.23L216.46 300.19L216.98 300.15L217.50 300.12L218.02 300.09L218.54 300.06L219.07 300.03L219.59 300.01L220.11 299.98L220.63 299.96L221.15 299.94L221.67 299.92L222.19 299.90L222.71 299.89L223.23 299.87L223.75 299.86L224.27 299.85L224.79 299.83L225.31 299.82L225.83 299.81L226.35 299.80L226.87 299.78L227.39 299.77L227.91 299.76L228.43 299.75L228.95 299.74L229.47 299.73L229.99 299.72L230.51 299.71L231.03 299.71L231.55 299.70L232.07 299.69L232.59 299.69L233.11 299.68L233.63 299.68L234.15 299.67L234.67 299.67L235.19 299.67L235.71 299.67L236.23 299.67L236.75 299.67L237.28 299.67L237.80 299.67L238.32 299.67L238.84 299.67L239.36 299.67L239.88 299.67L240.40 299.67L240.92 299.67L241.44 299.67L241.96 299.67L242.48 299.67L243.00 299.67L243.52 299.67L244.04 299.67L244.56 299.67L245.08 299.67L245.60 299.67L246.12 299.67L246.64 299.67L247.16 299.67L247.68 299.67L248.20 299.67L248.72 299.67L249.24 299.67L249.76 299.67L250.28 299.67L250.80 299.67L251.32 299.67L251.84 299.67L252.36 299.67L252.88 299.67L253.40 299.67L253.92 299.67L254.44 299.67L254.97 299.67L255.49 299.67L256.01 299.67L256.53 299.67L257.05 299.67L257.57 299.67L258.09 299.67L258.61 299.67L259.13 299.67L259.65 299.67L260.17 299.67L260.69 299.67L261.21 299.67L261.73 299.67L262.25 299.67L262.77 299.67L263.29 299.67L263.81 299.67L264.33 299.67L264.85 299.67L265.37 299.67L265.89 299.67L266.41 299.67L266.93 299.67L267.45 299.67L267.97 299.67L268.49 299.67L269.01 299.67L269.53 299.67L270.05 299.67L270.57 299.67L271.09 299.67L271.61 299.67L272.13 299.67L272.66 299.67L273.18 299.67L273.70 299.67L274.22 299.67L274.74 299.67L275.26 299.67L275.78 299.67L275.99 299.67L276.51 299.67L277.04 299.67L277.56 299.67L278.08 300.96L278.60 303.99L279.12 307.42L279.64 311.71L280.16 316.95L280.68 322.81L281.20 331.19L281.72 341.36L282.24 348.26L282.76 347.35L283.28 339.65L283.80 329.51L284.32 321.07L284.84 313.73L285.36 306.66L285.88 300.15L286.40 294.05L286.92 288.48L287.44 284.33L287.96 281.25L288.48 279.29L289.00 278.19L289.52 277.15L290.04 276.11L290.56 275.10L291.08 274.00L291.60 272.68L292.12 271.01L292.64 268.72L293.16 265.61L293.68 261.57L294.20 253.28L294.73 243.01L295.25 243.02L295.77 253.12L296.29 264.85L296.81 273.39L297.33 281.41L297.85 288.56L298.37 294.78L298.89 300.30L299.41 304.72L299.93 308.18L300.45 311.09L300.97 313.68L301.49 315.99L302.01 317.94L302.53 319.72L303.05 321.18L303.57 322.05L304.09 322.69L304.61 323.03L305.13 322.99L305.65 322.80L306.17 322.55L306.69 322.22L307.21 321.71L307.73 321.13L308.25 320.55L308.77 319.96L309.29 319.35L309.81 318.73L310.33 318.10L310.85 317.46L311.37 316.79L311.89 316.11L312.41 315.41L312.94 314.71L313.46 314.01L313.98 313.31L314.50 312.63L315.02 311.97L315.54 311.33L316.06 310.72L316.58 310.15L317.10 309.62L317.62 309.13L318.14 308.65L318.66 308.18L319.18 307.73L319.70 307.28L320.22 306.85L320.74 306.44L321.26 306.04L321.78 305.67L322.30 305.32L322.82 304.99L323.34 304.68L323.86 304.41L324.38 304.16L324.90 303.92L325.42 303.69L325.94 303.47L326.46 303.24L326.98 303.03L327.50 302.82L328.02 302.62L328.54 302.42L329.06 302.24L329.58 302.06L330.10 301.89L330.63 301.73L331.15 301.57L331.67 301.43L332.19 301.30L332.71 301.18L333.23 301.07L333.75 300.97L334.27 300.89L334.79 300.81L335.31 300.75L335.83 300.69L336.35 300.63L336.87 300.58L337.39 300.53L337.91 300.47L338.43 300.43L338.95 300.38L339.47 300.34L339.99 300.29L340.51 300.25L341.03 300.21L341.55 300.18L342.07 300.14L342.59 300.11L343.11 300.08L343.63 300.05L344.15 300.02L344.67 300.00L345.19 299.98L345.71 299.95L346.23 299.93L346.75 299.92L347.27 299.90L347.79 299.89L348.32 299.87L348.84 299.86L349.36 299.84L349.88 299.83L350.40 299.82L350.92 299.81L351.44 299.79L351.96 299.78L352.48 299.77L353.00 299.76L353.52 299.75L354.04 299.74L354.56 299.73L355.08 299.72L355.60 299.71L356.12 299.70L356.64 299.70L357.16 299.69L357.68 299.69L358.20 299.68L358.72 299.68L359.24 299.67L359.76 299.67L360.28 299.67L360.80 299.67L361.32 299.67L361.84 299.67L362.36 299.67L362.88 299.67L363.40 299.67L363.92 299.67L364.44 299.67L364.96 299.67L365.48 299.67L366.01 299.67L366.53 299.67L367.05 299.67L367.57 299.67L368.09 299.67L368.61 299.67L369.13 299.67L369.65 299.67L370.17 299.67L370.69 299.67L371.21 299.67L371.73 299.67L372.25 299.67L372.77 299.67L373.29 299.67L373.81 299.67L374.33 299.67L374.85 299.67L375.37 299.67L375.89 299.67L376.41 299.67L376.93 299.67L377.45 299.67L377.97 299.67L378.49 299.67L379.01 299.67L379.53 299.67L380.05 299.67L380.57 299.67L381.09 299.67L381.61 299.67L382.13 299.67L382.65 299.67L383.17 299.67L383.69 299.67L384.22 299.67L384.74 299.67L385.26 299.67L385.78 299.67L386.30 299.67L386.82 299.67L387.34 299.67L387.86 299.67L388.38 299.67L388.90 299.67L389.42 299.67L389.94 299.67L390.46 299.67L390.98 299.67L391.50 299.67L392.02 299.67L392.54 299.67L393.06 299.67L393.58 299.67L394.10 299.67L394.62 299.67L395.14 299.67L395.66 299.67L396.18 299.67L396.70 299.67L397.22 299.67L397.74 299.67L398.26 299.67L398.78 299.67L399.30 299.67L399.82 299.67L400.34 299.67L400.86 299.67L400.98 299.67L401.50 299.67L402.02 299.67L402.54 299.67L403.06 301.17L403.58 304.69L404.10 308.74L404.62 313.94L405.14 320.29L405.66 327.22L406.18 336.60L406.70 347.67L407.22 355.11L407.74 354.52L408.26 347.98L408.78 339.08L409.30 331.05L409.82 322.66L410.34 314.29L410.86 307.83L411.38 303.52L411.91 300.15L412.43 298.22L412.95 297.16L413.47 296.38L413.99 295.58L414.51 294.85L415.03 294.18L415.55 293.43L416.07 292.46L416.59 291.08L417.11 289.16L417.63 286.67L418.15 283.32L418.67 278.11L419.19 270.29L419.71 259.38L420.23 259.35L420.75 270.32L421.27 282.24L421.79 289.58L422.31 295.76L422.83 300.28L423.35 303.19L423.87 305.81L424.39 309.26L424.91 313.19L425.43 316.93L425.95 319.94L426.47 322.52L426.99 324.68L427.51 326.45L428.03 327.97L428.55 328.91L429.07 329.50L429.60 329.82L430.12 329.71L430.64 329.30L431.16 328.74L431.68 328.04L432.20 327.00L432.72 325.80L433.24 324.61L433.76 323.36L434.28 322.03L434.80 320.74L435.32 319.63L435.84 318.65L436.36 317.69L436.88 316.76L437.40 315.86L437.92 315.00L438.44 314.17L438.96 313.37L439.48 312.61L440.00 311.89L440.52 311.21L441.04 310.56L441.56 309.96L442.08 309.41L442.60 308.89L443.12 308.38L443.64 307.90L444.16 307.43L444.68 306.97L445.20 306.54L445.72 306.13L446.24 305.74L446.76 305.38L447.28 305.04L447.81 304.72L448.33 304.43L448.85 304.17L449.37 303.94L449.89 303.72L450.41 303.51L450.93 303.31L451.45 303.11L451.97 302.91L452.49 302.73L453.01 302.55L453.53 302.38L454.05 302.21L454.57 302.05L455.09 301.90L455.61 301.76L456.13 301.63L456.65 301.50L457.17 301.39L457.69 301.28L458.21 301.18L458.73 301.08L459.25 301.00L459.77 300.92L460.29 300.86L460.81 300.79L461.33 300.73L461.85 300.67L462.37 300.61L462.89 300.56L463.41 300.50L463.93 300.45L464.45 300.40L464.97 300.35L465.50 300.30L466.02 300.26L466.54 300.22L467.06 300.18L467.58 300.14L468.10 300.10L468.62 300.07L469.14 300.04L469.66 300.01L470.18 299.98L470.70 299.96L471.22 299.94L471.74 299.92L472.26 299.90L472.78 299.89L473.30 299.87L473.82 299.86L474.34 299.84L474.86 299.83L475.38 299.82L475.90 299.80L476.42 299.79L476.94 299.78L477.46 299.77L477.98 299.76L478.50 299.75L479.02 299.74L479.54 299.73L480.06 299.72L480.58 299.71L481.10 299.70L481.62 299.70L482.14 299.69L482.66 299.69L483.19 299.68L483.71 299.68L484.23 299.67L484.75 299.67L485.27 299.67L485.79 299.67L486.31 299.67L486.83 299.67L487.35 299.67L487.87 299.67L488.39 299.67L488.91 299.67L489.43 299.67L489.95 299.67L490.47 299.67L490.99 299.67L491.51 299.67L492.03 299.67L492.55 299.67L493.07 299.67L493.59 299.67L494.11 299.67L494.63 299.67L495.15 299.67L495.67 299.67L496.19 299.67L496.71 299.67L497.23 299.67L497.75 299.67L498.27 299.67L498.79 299.67L499.31 299.67L499.83 299.67L500.35 299.67L500.88 299.67L501.40 299.67L501.92 299.67L502.44 299.67L502.96 299.67L503.48 299.67L504.00 299.67L504.52 299.67L505.04 299.67L505.56 299.67L506.08 299.67L506.60 299.67L507.12 299.67L507.64 299.67L508.16 299.67L508.68 299.67L509.20 299.67L509.72 299.67L510.24 299.67L510.76 299.67L511.28 299.67L511.80 299.67L512.32 299.67L512.84 299.67L513.36 299.67L513.88 299.67L514.40 299.67L514.92 299.67L515.44 299.67L515.96 299.67L516.48 299.67L517.00 299.67L517.52 299.67L518.04 299.67L518.56 299.67L519.09 299.67L519.61 299.67L520.13 299.67L520.65 299.67L521.17 299.67L521.69 299.67L522.21 299.67L522.73 299.67L523.25 299.67L523.77 299.67L524.29 299.67L524.81 299.67L525.33 299.67L525.85 299.67L525.96 299.67L526.48 299.67L527.00 299.67L527.52 299.67L528.04 301.41L528.56 305.45L529.09 309.98L529.61 315.52L530.13 322.17L530.65 329.43L531.17 339.30L531.69 350.93L532.21 358.74L532.73 358.05L533.25 350.96L533.77 341.63L534.29 333.91L534.81 326.79L535.33 320.09L535.85 314.99L536.37 311.47L536.89 308.53L537.41 306.51L537.93 305.58L538.45 305.09L538.97 304.67L539.49 304.07L540.01 303.25L540.53 302.23L541.05 300.95L541.57 299.23L542.09 296.86L542.61 293.89L543.13 290.12L543.65 284.71L544.17 277.58L544.69 268.66L545.21 268.97L545.73 279.58L546.25 291.08L546.78 297.98L547.30 303.40L547.82 307.08L548.34 310.18L548.86 314.31L549.38 319.10L549.90 323.50L550.42 326.62L550.94 329.02L551.46 330.83L551.98 332.29L552.50 333.28L553.02 333.72L553.54 333.94L554.06 333.77L554.58 333.16L555.10 332.35L555.62 331.42L556.14 330.17L556.66 328.72L557.18 327.22L557.70 325.76L558.22 324.16L558.74 322.48L559.26 320.84L559.78 319.37L560.30 318.18L560.82 317.19L561.34 316.26L561.86 315.38L562.38 314.55L562.90 313.77L563.42 313.04L563.94 312.34L564.47 311.69L564.99 311.06L565.51 310.47L566.03 309.91L566.55 309.36L567.07 308.84L567.59 308.34L568.11 307.85L568.63 307.36L569.15 306.90L569.67 306.44L570.19 306.01L570.71 305.59L571.23 305.20L571.75 304.83L572.27 304.48L572.79 304.16L573.31 303.87L573.83 303.62L574.35 303.39L574.87 303.17L575.39 302.96L575.91 302.76L576.43 302.56L576.95 302.36L577.47 302.18L577.99 302.00L578.51 301.82L579.03 301.66L579.55 301.50L580.07 301.35L580.59 301.21L581.11 301.08L581.63 300.96L582.15 300.85L582.68 300.75L583.20 300.66L583.72 300.59L584.24 300.52L584.76 300.47L585.28 300.43L585.80 300.39L586.32 300.35L586.84 300.32L587.36 300.28L587.88 300.25L588.40 300.22L588.92 300.20L589.44 300.17L589.96 300.14L590.48 300.12L591.00 300.10L591.52 300.08L592.04 300.06L592.56 300.04L593.08 300.02L593.60 300.00L594.12 299.99L594.64 299.97L595.16 299.95L595.68 299.94L596.20 299.93L596.72 299.91L597.24 299.90L597.76 299.89L598.28 299.87L598.80 299.86L599.32 299.85L599.84 299.84L600.37 299.82L600.89 299.81L601.41 299.80L601.93 299.79L602.45 299.78L602.97 299.76L603.49 299.75L604.01 299.74L604.53 299.73L605.05 299.72L605.57 299.72L606.09 299.71L606.61 299.70L607.13 299.69L607.65 299.69L608.17 299.68L608.69 299.68L609.21 299.67L609.73 299.67L610.25 299.67L610.77 299.67L611.29 299.67L611.81 299.67L612.33 299.67L612.85 299.67L613.37 299.67L613.89 299.67L614.41 299.67L614.93 299.67L615.45 299.67L615.97 299.67L616.49 299.67L617.01 299.67L617.53 299.67L618.06 299.67L618.58 299.67L619.10 299.67L619.62 299.67L620.14 299.67L620.66 299.67L621.18 299.67L621.70 299.67L622.22 299.67L622.74 299.67L623.26 299.67L623.78 299.67L624.30 299.67L624.82 299.67L625.34 299.67L625.86 299.67L626.38 299.67L626.90 299.67L627.42 299.67L627.94 299.67L628.46 299.67L628.98 299.67L629.50 299.67L630.02 299.67L630.54 299.67L631.06 299.67L631.58 299.67L632.10 299.67L632.62 299.67L633.14 299.67L633.66 299.67L634.18 299.67L634.70 299.67L635.22 299.67L635.75 299.67L636.27 299.67L636.79 299.67L637.31 299.67L637.83 299.67L638.35 299.67L638.87 299.67L639.39 299.67L639.91 299.67L640.43 299.67L640.95 299.67L641.47 299.67L641.99 299.67L642.51 299.67L643.03 299.67L643.55 299.67L644.07 299.67L644.59 299.67L645.11 299.67L645.63 299.67L646.15 299.67L646.67 299.67L647.19 299.67L647.71 299.67L648.23 299.67L648.75 299.67L649.27 299.67L649.79 299.67L650.31 299.67L650.83 299.67L651.35 299.67L651.87 299.67L652.39 299.67L652.91 299.67L653.43 299.67L653.96 299.67L654.48 299.67L655.00 299.67L655.52 299.67L656.04 299.67L656.56 299.67L657.08 299.67L657.60 299.67L658.12 299.67L658.64 299.67L659.16 299.67L659.68 299.67L660.20 299.67L660.72 299.67L661.24 299.67L661.76 299.67L662.28 299.67L662.80 299.67L663.32 299.67L663.84 299.67L664.36 299.67L664.88 299.67L665.40 299.67L665.92 299.67L666.44 299.67L666.96 299.67L667.48 299.67L668.00 299.67L668.52 299.67L669.04 299.67L669.56 299.67L670.08 299.67L670.60 299.67L671.12 299.67L671.65 299.67L672.17 299.67L672.69 299.67L673.21 299.67L673.73 299.67L673.80 299.67"/></g>
</g>
<path d="M49.45 41.92h6.40M49.45 77.80h6.40M49.45 113.68h6.40M49.45 149.56h6.40M49.45 232.89h6.40M49.45 288.54h6.40M49.45 344.19h6.40M257.57 167.05v-6.40M257.57 360.85v-6.40M465.68 167.05v-6.40M465.68 360.85v-6.40" stroke="#000" stroke-width="1.50" fill="none"/>
<rect x="49.45" y="6.05" width="624.35" height="161.00" fill="none" stroke="#000" stroke-width="1.50"/>
<rect x="49.45" y="199.55" width="624.35" height="161.30" fill="none" stroke="#000" stroke-width="1.50"/>
<rect x="380.20" y="6.05" width="293.70" height="26.35" rx="2.8" ry="2.8" fill="#fff" fill-opacity="0.8" stroke="#ccc" stroke-opacity="0.8" stroke-width="1.4"/>
<rect x="391.80" y="199.55" width="282.10" height="26.05" rx="2.8" ry="2.8" fill="#fff" fill-opacity="0.8" stroke="#ccc" stroke-opacity="0.8" stroke-width="1.4"/>
<path d="M384.80 17.80H419.40" stroke="#c7164a" stroke-width="2.78" fill="none"/>
<path d="M556.20 17.80H591.00" stroke="#000" stroke-width="2.78" fill="none"/>
<path d="M396.90 211.50H432.00" stroke="#c7164a" stroke-width="2.78" fill="none"/>
<path d="M562.50 211.50H597.30" stroke="#000" stroke-width="2.78" fill="none"/>
<text x="305.84" y="397.70" font-family="Liberation Sans, DejaVu Sans, sans-serif" font-size="14.00" textLength="57.80" lengthAdjust="spacingAndGlyphs" fill="#000">Iteration</text>
<text x="369.84" y="397.70" font-family="Liberation Sans, DejaVu Sans, sans-serif" font-size="14.00" textLength="29.04" lengthAdjust="spacingAndGlyphs" fill="#000">step</text>
<text x="404.34" y="397.70" font-family="Liberation Serif, DejaVu Serif, serif" font-size="15.00" font-style="italic" textLength="11.06" lengthAdjust="spacingAndGlyphs" fill="#000">n</text>
<text x="430.36" y="22.60" font-family="Liberation Serif, DejaVu Serif, serif" font-size="15.00" font-style="italic" textLength="16.96" lengthAdjust="spacingAndGlyphs" fill="#000">vγ</text>
<text x="453.82" y="22.60" font-family="Liberation Sans, DejaVu Sans, sans-serif" font-size="14.00" textLength="30.80" lengthAdjust="spacingAndGlyphs" fill="#000">(NO</text>
<text x="491.82" y="22.60" font-family="Liberation Sans, DejaVu Sans, sans-serif" font-size="14.00" textLength="34.34" lengthAdjust="spacingAndGlyphs" fill="#000">ICO)</text>
<text x="601.84" y="22.60" font-family="Liberation Serif, DejaVu Serif, serif" font-size="15.00" font-style="italic" textLength="16.96" lengthAdjust="spacingAndGlyphs" fill="#000">vγ</text>
<text x="626.34" y="22.60" font-family="Liberation Sans, DejaVu Sans, sans-serif" font-size="14.00" textLength="41.08" lengthAdjust="spacingAndGlyphs" fill="#000">(ICO)</text>
<text x="441.82" y="215.90" font-family="Liberation Serif, DejaVu Serif, serif" font-size="15.00" font-style="italic" textLength="11.72" lengthAdjust="spacingAndGlyphs" fill="#000">T</text>
<text x="460.86" y="215.90" font-family="Liberation Sans, DejaVu Sans, sans-serif" font-size="14.00" textLength="30.80" lengthAdjust="spacingAndGlyphs" fill="#000">(NO</text>
<text x="497.80" y="215.90" font-family="Liberation Sans, DejaVu Sans, sans-serif" font-size="14.00" textLength="34.10" lengthAdjust="spacingAndGlyphs" fill="#000">ICO)</text>
<text x="607.56" y="215.90" font-family="Liberation Serif, DejaVu Serif, serif" font-size="15.00" font-style="italic" textLength="11.46" lengthAdjust="spacingAndGlyphs" fill="#000">T</text>
<text x="626.34" y="215.90" font-family="Liberation Sans, DejaVu Sans, sans-serif" font-size="14.00" textLength="41.08" lengthAdjust="spacingAndGlyphs" fill="#000">(ICO)</text>
<text transform="translate(14.30 148.10) rotate(-90)" font-family="Liberation Sans, DejaVu Sans, sans-serif" font-size="14.00" textLength="63.50" lengthAdjust="spacingAndGlyphs" fill="#000">Amplitude</text>
<text transform="translate(14.30 81.14) rotate(-90)" font-family="Liberation Sans, DejaVu Sans, sans-serif" font-size="14.00" textLength="31.58" lengthAdjust="spacingAndGlyphs" fill="#000">(arb.</text>
<text transform="translate(14.30 42.42) rotate(-90)" font-family="Liberation Sans, DejaVu Sans, sans-serif" font-size="14.00" textLength="19.08" lengthAdjust="spacingAndGlyphs" fill="#000">u.)</text>
<text transform="translate(14.30 338.08) rotate(-90)" font-family="Liberation Sans, DejaVu Sans, sans-serif" font-size="14.00" textLength="80.98" lengthAdjust="spacingAndGlyphs" fill="#000">Temperature</text>
<text transform="translate(14.30 253.42) rotate(-90)" font-family="Liberation Sans, DejaVu Sans, sans-serif" font-size="14.00" textLength="30.32" lengthAdjust="spacingAndGlyphs" fill="#000">(°C)</text>
<text x="58.08" y="44.80" font-family="Liberation Sans, DejaVu Sans, sans-serif" font-size="17.60" textLength="24.58" lengthAdjust="spacingAndGlyphs" fill="#000">(a)</text>
<text x="58.08" y="238.30" font-family="Liberation Sans, DejaVu Sans, sans-serif" font-size="17.60" textLength="24.82" lengthAdjust="spacingAndGlyphs" fill="#000">(b)</text>
<text x="32.84" y="11.34" font-family="Liberation Serif, DejaVu Serif, serif" font-size="14.60" stroke="#000" stroke-width="0.3" textLength="9.04" lengthAdjust="spacingAndGlyphs" fill="#000">6</text>
<text x="33.64" y="47.22" font-family="Liberation Serif, DejaVu Serif, serif" font-size="14.60" stroke="#000" stroke-width="0.3" textLength="8.24" lengthAdjust="spacingAndGlyphs" fill="#000">4</text>
<text x="32.84" y="83.10" font-family="Liberation Serif, DejaVu Serif, serif" font-size="14.60" stroke="#000" stroke-width="0.3" textLength="9.04" lengthAdjust="spacingAndGlyphs" fill="#000">2</text>
<text x="32.84" y="118.98" font-family="Liberation Serif, DejaVu Serif, serif" font-size="14.60" stroke="#000" stroke-width="0.3" textLength="9.04" lengthAdjust="spacingAndGlyphs" fill="#000">0</text>
<text x="22.32" y="154.86" font-family="Liberation Serif, DejaVu Serif, serif" font-size="14.60" stroke="#000" stroke-width="0.3" textLength="20.36" lengthAdjust="spacingAndGlyphs" fill="#000">−2</text>
<text x="24.58" y="238.19" font-family="Liberation Serif, DejaVu Serif, serif" font-size="14.60" stroke="#000" stroke-width="0.3" textLength="17.04" lengthAdjust="spacingAndGlyphs" fill="#000">50</text>
<text x="25.38" y="293.84" font-family="Liberation Serif, DejaVu Serif, serif" font-size="14.60" stroke="#000" stroke-width="0.3" textLength="16.24" lengthAdjust="spacingAndGlyphs" fill="#000">45</text>
<text x="25.38" y="349.49" font-family="Liberation Serif, DejaVu Serif, serif" font-size="14.60" stroke="#000" stroke-width="0.3" textLength="16.24" lengthAdjust="spacingAndGlyphs" fill="#000">40</text>
<text x="45.17" y="377.70" font-family="Liberation Serif, DejaVu Serif, serif" font-size="14.60" stroke="#000" stroke-width="0.3" textLength="9.04" lengthAdjust="spacingAndGlyphs" fill="#000">0</text>
<text x="244.97" y="377.70" font-family="Liberation Serif, DejaVu Serif, serif" font-size="14.60" stroke="#000" stroke-width="0.3" textLength="25.04" lengthAdjust="spacingAndGlyphs" fill="#000">200</text>
<text x="453.56" y="377.70" font-family="Liberation Serif, DejaVu Serif, serif" font-size="14.60" stroke="#000" stroke-width="0.3" textLength="24.24" lengthAdjust="spacingAndGlyphs" fill="#000">400</text>
<text x="661.20" y="377.70" font-family="Liberation Serif, DejaVu Serif, serif" font-size="14.60" stroke="#000" stroke-width="0.3" textLength="25.04" lengthAdjust="spacingAndGlyphs" fill="#000">600</text>
</svg>
</body></html>
